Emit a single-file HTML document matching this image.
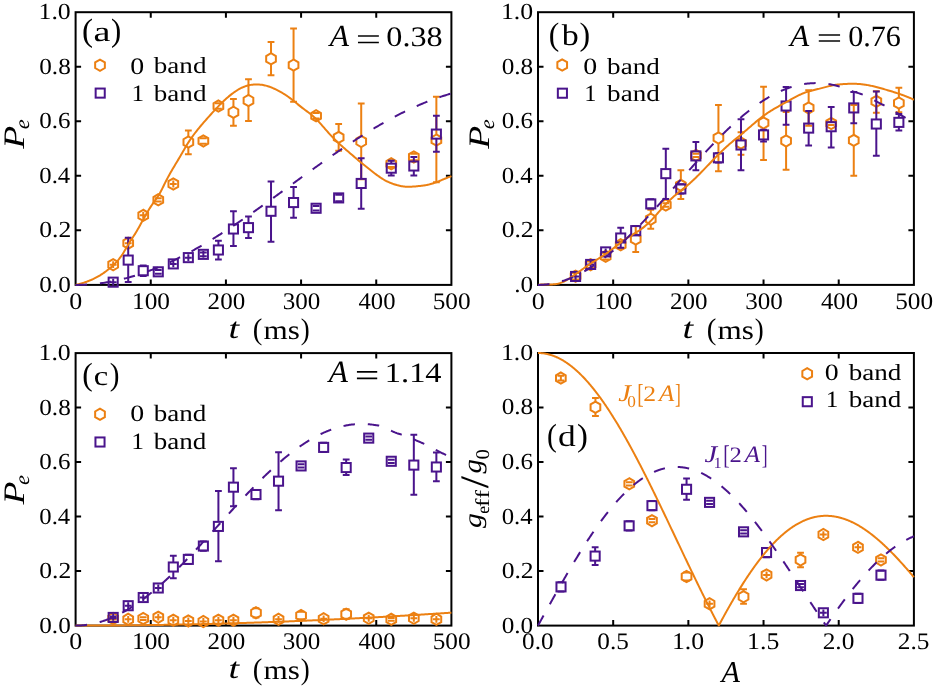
<!DOCTYPE html>
<html><head><meta charset="utf-8"><style>
html,body{margin:0;padding:0;background:#fff;}
svg{display:block;will-change:transform;}
text{font-family:"Liberation Serif",serif;font-kerning:none;text-rendering:geometricPrecision;}
</style></head><body>
<svg width="933" height="688" viewBox="0 0 933 688">
<rect width="933" height="688" fill="#fff"/>
<text transform="translate(69.36 308.57) scale(1.0878 1)" font-size="23.86" font-style="normal" fill="#000">0</text>
<text transform="translate(132.03 308.57) scale(1.0615 1)" font-size="23.86" font-style="normal" fill="#000">100</text>
<text transform="translate(207.62 308.57) scale(1.0493 1)" font-size="23.86" font-style="normal" fill="#000">200</text>
<text transform="translate(282.68 308.57) scale(1.0522 1)" font-size="23.86" font-style="normal" fill="#000">300</text>
<text transform="translate(358.56 308.57) scale(1.0316 1)" font-size="23.86" font-style="normal" fill="#000">400</text>
<text transform="translate(432.73 308.57) scale(1.0599 1)" font-size="23.86" font-style="normal" fill="#000">500</text>
<text transform="translate(39.24 291.87) scale(1.0909 1)" font-size="23.12" font-style="normal" fill="#000">0.0</text>
<text transform="translate(39.23 237.33) scale(1.1070 1)" font-size="23.12" font-style="normal" fill="#000">0.2</text>
<text transform="translate(39.26 182.79) scale(1.0704 1)" font-size="23.12" font-style="normal" fill="#000">0.4</text>
<text transform="translate(39.25 128.25) scale(1.0832 1)" font-size="23.12" font-style="normal" fill="#000">0.6</text>
<text transform="translate(39.24 73.71) scale(1.0909 1)" font-size="23.12" font-style="normal" fill="#000">0.8</text>
<text transform="translate(38.53 19.17) scale(1.1161 1)" font-size="23.12" font-style="normal" fill="#000">1.0</text>
<text transform="translate(531.76 308.57) scale(1.0878 1)" font-size="23.86" font-style="normal" fill="#000">0</text>
<text transform="translate(594.45 308.57) scale(1.0615 1)" font-size="23.86" font-style="normal" fill="#000">100</text>
<text transform="translate(670.06 308.57) scale(1.0493 1)" font-size="23.86" font-style="normal" fill="#000">200</text>
<text transform="translate(745.14 308.57) scale(1.0522 1)" font-size="23.86" font-style="normal" fill="#000">300</text>
<text transform="translate(821.04 308.57) scale(1.0316 1)" font-size="23.86" font-style="normal" fill="#000">400</text>
<text transform="translate(895.23 308.57) scale(1.0599 1)" font-size="23.86" font-style="normal" fill="#000">500</text>
<text transform="translate(501.64 291.87) scale(1.0909 1)" font-size="23.12" font-style="normal" fill="#000">0.0</text>
<text transform="translate(501.63 237.33) scale(1.1070 1)" font-size="23.12" font-style="normal" fill="#000">0.2</text>
<text transform="translate(501.66 182.79) scale(1.0704 1)" font-size="23.12" font-style="normal" fill="#000">0.4</text>
<text transform="translate(501.65 128.25) scale(1.0832 1)" font-size="23.12" font-style="normal" fill="#000">0.6</text>
<text transform="translate(501.64 73.71) scale(1.0909 1)" font-size="23.12" font-style="normal" fill="#000">0.8</text>
<text transform="translate(500.93 19.17) scale(1.1161 1)" font-size="23.12" font-style="normal" fill="#000">1.0</text>
<text transform="translate(69.36 649.27) scale(1.0878 1)" font-size="23.86" font-style="normal" fill="#000">0</text>
<text transform="translate(132.03 649.27) scale(1.0615 1)" font-size="23.86" font-style="normal" fill="#000">100</text>
<text transform="translate(207.62 649.27) scale(1.0493 1)" font-size="23.86" font-style="normal" fill="#000">200</text>
<text transform="translate(282.68 649.27) scale(1.0522 1)" font-size="23.86" font-style="normal" fill="#000">300</text>
<text transform="translate(358.56 649.27) scale(1.0316 1)" font-size="23.86" font-style="normal" fill="#000">400</text>
<text transform="translate(432.73 649.27) scale(1.0599 1)" font-size="23.86" font-style="normal" fill="#000">500</text>
<text transform="translate(39.24 632.57) scale(1.0909 1)" font-size="23.12" font-style="normal" fill="#000">0.0</text>
<text transform="translate(39.23 578.07) scale(1.1070 1)" font-size="23.12" font-style="normal" fill="#000">0.2</text>
<text transform="translate(39.26 523.57) scale(1.0704 1)" font-size="23.12" font-style="normal" fill="#000">0.4</text>
<text transform="translate(39.25 469.07) scale(1.0832 1)" font-size="23.12" font-style="normal" fill="#000">0.6</text>
<text transform="translate(39.24 414.57) scale(1.0909 1)" font-size="23.12" font-style="normal" fill="#000">0.8</text>
<text transform="translate(38.53 360.07) scale(1.1161 1)" font-size="23.12" font-style="normal" fill="#000">1.0</text>
<text transform="translate(522.09 649.16) scale(1.0638 1)" font-size="23.70" font-style="normal" fill="#000">0.0</text>
<text transform="translate(597.27 649.16) scale(1.0647 1)" font-size="23.70" font-style="normal" fill="#000">0.5</text>
<text transform="translate(671.89 649.16) scale(1.0884 1)" font-size="23.70" font-style="normal" fill="#000">1.0</text>
<text transform="translate(747.07 649.16) scale(1.0815 1)" font-size="23.88" font-style="normal" fill="#000">1.5</text>
<text transform="translate(822.66 649.16) scale(1.0691 1)" font-size="23.70" font-style="normal" fill="#000">2.0</text>
<text transform="translate(897.84 649.16) scale(1.0654 1)" font-size="23.81" font-style="normal" fill="#000">2.5</text>
<text transform="translate(501.64 632.57) scale(1.0909 1)" font-size="23.12" font-style="normal" fill="#000">0.0</text>
<text transform="translate(501.63 578.05) scale(1.1070 1)" font-size="23.12" font-style="normal" fill="#000">0.2</text>
<text transform="translate(501.66 523.53) scale(1.0704 1)" font-size="23.12" font-style="normal" fill="#000">0.4</text>
<text transform="translate(501.65 469.01) scale(1.0832 1)" font-size="23.12" font-style="normal" fill="#000">0.6</text>
<text transform="translate(501.64 414.49) scale(1.0909 1)" font-size="23.12" font-style="normal" fill="#000">0.8</text>
<text transform="translate(500.93 359.97) scale(1.1161 1)" font-size="23.12" font-style="normal" fill="#000">1.0</text>
<text transform="translate(82.05 40.82) scale(1.0242 1)" font-size="32.31" font-style="normal" fill="#000">(</text>
<text transform="translate(93.56 40.72) scale(1.3464 1)" font-size="28.39" font-style="normal" fill="#000">a</text>
<text transform="translate(111.01 40.82) scale(0.9519 1)" font-size="32.31" font-style="normal" fill="#000">)</text>
<text transform="translate(548.71 44.90) scale(0.9727 1)" font-size="32.42" font-style="normal" fill="#000">(</text>
<text transform="translate(561.70 44.51) scale(1.1388 1)" font-size="29.85" font-style="normal" fill="#000">b</text>
<text transform="translate(579.57 44.90) scale(0.9847 1)" font-size="32.42" font-style="normal" fill="#000">)</text>
<text transform="translate(82.31 385.17) scale(0.9827 1)" font-size="32.09" font-style="normal" fill="#000">(</text>
<text transform="translate(93.66 384.83) scale(1.1677 1)" font-size="27.86" font-style="normal" fill="#000">c</text>
<text transform="translate(109.66 385.17) scale(0.9099 1)" font-size="32.09" font-style="normal" fill="#000">)</text>
<text transform="translate(547.10 445.99) scale(0.9252 1)" font-size="31.98" font-style="normal" fill="#000">(</text>
<text transform="translate(557.92 445.71) scale(1.1813 1)" font-size="29.99" font-style="normal" fill="#000">d</text>
<text transform="translate(577.05 445.99) scale(1.0226 1)" font-size="31.98" font-style="normal" fill="#000">)</text>
<text transform="translate(329.72 46.20) scale(1.0258 1)" font-size="30.75" font-style="italic" fill="#000">A</text>
<text transform="translate(355.86 49.71) scale(1.3862 1)" font-size="32.40" font-style="normal" fill="#000">=</text>
<text transform="translate(386.37 46.30) scale(1.1391 1)" font-size="28.27" font-style="normal" fill="#000">0.38</text>
<text transform="translate(790.02 45.50) scale(1.0259 1)" font-size="30.60" font-style="italic" fill="#000">A</text>
<text transform="translate(816.42 48.01) scale(1.5258 1)" font-size="30.00" font-style="normal" fill="#000">=</text>
<text transform="translate(848.15 45.88) scale(1.0236 1)" font-size="29.45" font-style="normal" fill="#000">0.76</text>
<text transform="translate(328.72 382.30) scale(1.0109 1)" font-size="31.05" font-style="italic" fill="#000">A</text>
<text transform="translate(354.83 385.79) scale(1.3300 1)" font-size="32.80" font-style="normal" fill="#000">=</text>
<text transform="translate(384.85 381.80) scale(1.1571 1)" font-size="28.03" font-style="normal" fill="#000">1.14</text>
<text transform="translate(130.34 73.67) scale(1.1742 1)" font-size="23.71" font-style="normal" fill="#000">0</text>
<text transform="translate(153.80 73.48) scale(1.1760 1)" font-size="23.02" font-style="normal" fill="#000">band</text>
<text transform="translate(131.38 101.40) scale(1.0698 1)" font-size="23.63" font-style="normal" fill="#000">1</text>
<text transform="translate(153.80 100.98) scale(1.1760 1)" font-size="23.02" font-style="normal" fill="#000">band</text>
<text transform="translate(583.14 73.67) scale(1.1891 1)" font-size="23.41" font-style="normal" fill="#000">0</text>
<text transform="translate(607.10 73.67) scale(1.1688 1)" font-size="23.17" font-style="normal" fill="#000">band</text>
<text transform="translate(584.25 101.30) scale(1.0472 1)" font-size="23.33" font-style="normal" fill="#000">1</text>
<text transform="translate(607.10 101.07) scale(1.1688 1)" font-size="23.17" font-style="normal" fill="#000">band</text>
<text transform="translate(130.14 421.47) scale(1.1891 1)" font-size="23.41" font-style="normal" fill="#000">0</text>
<text transform="translate(153.80 421.37) scale(1.1546 1)" font-size="23.45" font-style="normal" fill="#000">band</text>
<text transform="translate(131.15 449.00) scale(1.0959 1)" font-size="23.33" font-style="normal" fill="#000">1</text>
<text transform="translate(153.80 448.67) scale(1.1546 1)" font-size="23.45" font-style="normal" fill="#000">band</text>
<text transform="translate(824.64 379.67) scale(1.1891 1)" font-size="23.41" font-style="normal" fill="#000">0</text>
<text transform="translate(848.70 379.67) scale(1.1688 1)" font-size="23.17" font-style="normal" fill="#000">band</text>
<text transform="translate(825.68 407.10) scale(1.0837 1)" font-size="23.33" font-style="normal" fill="#000">1</text>
<text transform="translate(848.70 406.87) scale(1.1688 1)" font-size="23.17" font-style="normal" fill="#000">band</text>
<text transform="translate(618.17 401.37) scale(1.1884 1)" font-size="23.93" font-style="italic" fill="#ec8012">J</text>
<text transform="translate(627.34 407.44) scale(1.0378 1)" font-size="16.60" font-style="normal" fill="#ec8012">0</text>
<text transform="translate(637.27 403.03) scale(0.7041 1)" font-size="27.43" font-style="normal" fill="#ec8012">[</text>
<text transform="translate(643.17 400.70) scale(1.1652 1)" font-size="22.05" font-style="normal" fill="#ec8012">2</text>
<text transform="translate(658.97 400.70) scale(1.0702 1)" font-size="23.33" font-style="italic" fill="#ec8012">A</text>
<text transform="translate(674.97 403.03) scale(0.6386 1)" font-size="27.43" font-style="normal" fill="#ec8012">]</text>
<text transform="translate(704.47 462.37) scale(1.1884 1)" font-size="23.93" font-style="italic" fill="#4a148c">J</text>
<text transform="translate(713.83 467.70) scale(1.0013 1)" font-size="15.60" font-style="normal" fill="#4a148c">1</text>
<text transform="translate(723.17 464.10) scale(0.7168 1)" font-size="26.94" font-style="normal" fill="#4a148c">[</text>
<text transform="translate(729.51 462.20) scale(1.1200 1)" font-size="22.05" font-style="normal" fill="#4a148c">2</text>
<text transform="translate(744.87 462.20) scale(1.0633 1)" font-size="23.48" font-style="italic" fill="#4a148c">A</text>
<text transform="translate(761.67 464.10) scale(0.6501 1)" font-size="26.94" font-style="normal" fill="#4a148c">]</text>
<text transform="translate(228.42 338.41) scale(1.2947 1)" font-size="29.51" font-style="italic" fill="#000">t</text>
<text transform="translate(252.83 338.91) scale(0.9605 1)" font-size="30.00" font-style="normal" fill="#000">(</text>
<text transform="translate(263.55 338.64) scale(1.1623 1)" font-size="26.82" font-style="normal" fill="#000">ms</text>
<text transform="translate(300.73 338.91) scale(0.8956 1)" font-size="30.00" font-style="normal" fill="#000">)</text>
<text transform="translate(682.42 338.41) scale(1.2947 1)" font-size="29.51" font-style="italic" fill="#000">t</text>
<text transform="translate(706.83 338.91) scale(0.9605 1)" font-size="30.00" font-style="normal" fill="#000">(</text>
<text transform="translate(717.55 338.64) scale(1.1623 1)" font-size="26.82" font-style="normal" fill="#000">ms</text>
<text transform="translate(754.73 338.91) scale(0.8956 1)" font-size="30.00" font-style="normal" fill="#000">)</text>
<text transform="translate(228.42 678.41) scale(1.2947 1)" font-size="29.51" font-style="italic" fill="#000">t</text>
<text transform="translate(252.83 678.91) scale(0.9605 1)" font-size="30.00" font-style="normal" fill="#000">(</text>
<text transform="translate(263.55 678.64) scale(1.1623 1)" font-size="26.82" font-style="normal" fill="#000">ms</text>
<text transform="translate(300.73 678.91) scale(0.8956 1)" font-size="30.00" font-style="normal" fill="#000">)</text>
<text transform="translate(721.55 682.20) scale(1.0017 1)" font-size="30.14" font-style="italic" fill="#000">A</text>
<text transform="translate(24.10 148.70) rotate(-90) scale(1.2674 1)" font-size="29.78" font-style="italic" fill="#000">P</text>
<text transform="translate(28.80 129.29) rotate(-90) scale(1.0820 1)" font-size="20.58" font-style="italic" fill="#000">e</text>
<text transform="translate(489.00 148.70) rotate(-90) scale(1.2674 1)" font-size="29.78" font-style="italic" fill="#000">P</text>
<text transform="translate(493.70 129.29) rotate(-90) scale(1.0820 1)" font-size="20.58" font-style="italic" fill="#000">e</text>
<text transform="translate(24.10 504.50) rotate(-90) scale(1.2674 1)" font-size="29.78" font-style="italic" fill="#000">P</text>
<text transform="translate(28.80 485.09) rotate(-90) scale(1.0820 1)" font-size="20.58" font-style="italic" fill="#000">e</text>
<text transform="translate(481.31 528.01) rotate(-90) scale(1.1972 1)" font-size="24.87" font-style="italic" fill="#000">g</text>
<text transform="translate(489.03 513.79) rotate(-90) scale(0.9822 1)" font-size="17.88" font-style="normal" fill="#000">e</text>
<text transform="translate(489.20 506.98) rotate(-90) scale(1.2918 1)" font-size="19.74" font-style="normal" fill="#000">ff</text>
<text transform="translate(487.51 488.30) rotate(-90) scale(1.0879 1)" font-size="40.36" font-style="normal" fill="#000">/</text>
<text transform="translate(481.03 473.41) rotate(-90) scale(1.0964 1)" font-size="26.19" font-style="italic" fill="#000">g</text>
<text transform="translate(489.01 459.39) rotate(-90) scale(1.0695 1)" font-size="19.41" font-style="normal" fill="#000">0</text>
<rect x="500" y="275" width="15.6" height="20" fill="#fff"/>
<path d="M150.76 284.90V279.40M150.76 12.20V17.70M225.92 284.90V279.40M225.92 12.20V17.70M301.08 284.90V279.40M301.08 12.20V17.70M376.24 284.90V279.40M376.24 12.20V17.70M75.60 230.36H81.10M451.40 230.36H445.90M75.60 175.82H81.10M451.40 175.82H445.90M75.60 121.28H81.10M451.40 121.28H445.90M75.60 66.74H81.10M451.40 66.74H445.90" stroke="#000" stroke-width="2.00" fill="none"/>
<rect x="75.60" y="12.20" width="375.80" height="272.70" fill="none" stroke="#000" stroke-width="2.00"/>
<path d="M613.18 284.90V279.40M613.18 12.20V17.70M688.36 284.90V279.40M688.36 12.20V17.70M763.54 284.90V279.40M763.54 12.20V17.70M838.72 284.90V279.40M838.72 12.20V17.70M538.00 230.36H543.50M913.90 230.36H908.40M538.00 175.82H543.50M913.90 175.82H908.40M538.00 121.28H543.50M913.90 121.28H908.40M538.00 66.74H543.50M913.90 66.74H908.40" stroke="#000" stroke-width="2.00" fill="none"/>
<rect x="538.00" y="12.20" width="375.90" height="272.70" fill="none" stroke="#000" stroke-width="2.00"/>
<path d="M150.76 625.60V620.10M150.76 353.10V358.60M225.92 625.60V620.10M225.92 353.10V358.60M301.08 625.60V620.10M301.08 353.10V358.60M376.24 625.60V620.10M376.24 353.10V358.60M75.60 571.10H81.10M451.40 571.10H445.90M75.60 516.60H81.10M451.40 516.60H445.90M75.60 462.10H81.10M451.40 462.10H445.90M75.60 407.60H81.10M451.40 407.60H445.90" stroke="#000" stroke-width="2.00" fill="none"/>
<rect x="75.60" y="353.10" width="375.80" height="272.50" fill="none" stroke="#000" stroke-width="2.00"/>
<path d="M613.18 625.60V620.10M613.18 353.00V358.50M688.36 625.60V620.10M688.36 353.00V358.50M763.54 625.60V620.10M763.54 353.00V358.50M838.72 625.60V620.10M838.72 353.00V358.50M538.00 571.08H543.50M913.90 571.08H908.40M538.00 516.56H543.50M913.90 516.56H908.40M538.00 462.04H543.50M913.90 462.04H908.40M538.00 407.52H543.50M913.90 407.52H908.40" stroke="#000" stroke-width="2.00" fill="none"/>
<rect x="538.00" y="353.00" width="375.90" height="272.60" fill="none" stroke="#000" stroke-width="2.00"/>
<path d="M109.78 264.72H116.58M109.78 264.72H116.58M113.18 261.32V268.12M124.81 243.18H131.61M124.81 243.18H131.61M128.21 239.78V246.58M139.84 215.36H146.64M139.84 215.36H146.64M143.24 211.96V218.76M154.88 201.45H161.68M154.88 198.18H161.68M169.91 184.00H176.71M169.91 184.00H176.71M173.31 180.60V187.40M188.34 154.28V147.41M188.34 130.55V136.61M184.94 154.28H191.74M184.94 130.55H191.74M199.97 143.64H206.77M199.97 138.19H206.77M215.00 108.74H221.80M215.00 103.28H221.80M233.44 125.64V117.68M233.44 98.92V106.88M230.04 125.64H236.84M230.04 98.92H236.84M248.47 121.01V105.95M248.47 79.28V95.15M245.07 121.01H251.87M245.07 79.28H251.87M271.02 75.19V64.23M271.02 41.92V53.43M267.62 75.19H274.42M267.62 41.92H274.42M293.56 101.65V70.50M293.56 28.56V59.70M290.16 101.65H296.96M290.16 28.56H296.96M312.71 118.55H319.51M312.71 113.10H319.51M338.66 150.73V142.77M338.66 124.01V131.97M335.26 150.73H342.06M335.26 124.01H342.06M361.21 179.37V146.86M361.21 103.55V136.06M357.81 179.37H364.61M357.81 103.55H364.61M387.87 167.09H394.67M387.87 160.55H394.67M410.42 160.28H417.22M410.42 153.73H417.22M436.37 182.36V145.50M436.37 96.74V134.70M432.97 182.36H439.77M432.97 96.74H439.77" stroke="#ec8012" stroke-width="2.00" fill="none"/>
<polygon points="113.18,259.12 108.33,261.92 108.33,267.52 113.18,270.32 118.03,267.52 118.03,261.92" fill="none" stroke="#ec8012" stroke-width="2.00"/>
<polygon points="128.21,237.58 123.36,240.38 123.36,245.98 128.21,248.78 133.06,245.98 133.06,240.38" fill="none" stroke="#ec8012" stroke-width="2.00"/>
<polygon points="143.24,209.76 138.39,212.56 138.39,218.16 143.24,220.96 148.09,218.16 148.09,212.56" fill="none" stroke="#ec8012" stroke-width="2.00"/>
<polygon points="158.28,194.22 153.43,197.02 153.43,202.62 158.28,205.42 163.13,202.62 163.13,197.02" fill="none" stroke="#ec8012" stroke-width="2.00"/>
<polygon points="173.31,178.40 168.46,181.20 168.46,186.80 173.31,189.60 178.16,186.80 178.16,181.20" fill="none" stroke="#ec8012" stroke-width="2.00"/>
<polygon points="188.34,136.41 183.49,139.21 183.49,144.81 188.34,147.61 193.19,144.81 193.19,139.21" fill="none" stroke="#ec8012" stroke-width="2.00"/>
<polygon points="203.37,135.31 198.52,138.11 198.52,143.71 203.37,146.51 208.22,143.71 208.22,138.11" fill="none" stroke="#ec8012" stroke-width="2.00"/>
<polygon points="218.40,100.41 213.55,103.21 213.55,108.81 218.40,111.61 223.25,108.81 223.25,103.21" fill="none" stroke="#ec8012" stroke-width="2.00"/>
<polygon points="233.44,106.68 228.59,109.48 228.59,115.08 233.44,117.88 238.29,115.08 238.29,109.48" fill="none" stroke="#ec8012" stroke-width="2.00"/>
<polygon points="248.47,94.95 243.62,97.75 243.62,103.35 248.47,106.15 253.32,103.35 253.32,97.75" fill="none" stroke="#ec8012" stroke-width="2.00"/>
<polygon points="271.02,53.23 266.17,56.03 266.17,61.63 271.02,64.43 275.87,61.63 275.87,56.03" fill="none" stroke="#ec8012" stroke-width="2.00"/>
<polygon points="293.56,59.50 288.71,62.30 288.71,67.90 293.56,70.70 298.41,67.90 298.41,62.30" fill="none" stroke="#ec8012" stroke-width="2.00"/>
<polygon points="316.11,110.23 311.26,113.03 311.26,118.63 316.11,121.43 320.96,118.63 320.96,113.03" fill="none" stroke="#ec8012" stroke-width="2.00"/>
<polygon points="338.66,131.77 333.81,134.57 333.81,140.17 338.66,142.97 343.51,140.17 343.51,134.57" fill="none" stroke="#ec8012" stroke-width="2.00"/>
<polygon points="361.21,135.86 356.36,138.66 356.36,144.26 361.21,147.06 366.06,144.26 366.06,138.66" fill="none" stroke="#ec8012" stroke-width="2.00"/>
<polygon points="391.27,158.22 386.42,161.02 386.42,166.62 391.27,169.42 396.12,166.62 396.12,161.02" fill="none" stroke="#ec8012" stroke-width="2.00"/>
<polygon points="413.82,151.40 408.97,154.20 408.97,159.80 413.82,162.60 418.67,159.80 418.67,154.20" fill="none" stroke="#ec8012" stroke-width="2.00"/>
<polygon points="436.37,134.50 431.52,137.30 431.52,142.90 436.37,145.70 441.22,142.90 441.22,137.30" fill="none" stroke="#ec8012" stroke-width="2.00"/>
<path d="M109.78 282.17H116.58M109.78 282.17H116.58M113.18 278.77V285.57M128.21 281.90V264.58M128.21 237.72V255.58M124.81 281.90H131.61M124.81 237.72H131.61M143.24 275.90V275.22M143.24 265.54V266.22M139.84 275.90H146.64M139.84 265.54H146.64M154.88 273.72H161.68M154.88 269.90H161.68M169.91 263.90H176.71M169.91 263.90H176.71M173.31 260.50V267.30M184.94 257.63H191.74M184.94 257.63H191.74M188.34 254.23V261.03M199.97 256.27H206.77M199.97 252.45H206.77M203.37 250.96V257.76M218.40 259.54V254.49M218.40 240.72V245.49M215.00 259.54H221.80M215.00 240.72H221.80M233.44 245.90V233.50M233.44 211.27V224.50M230.04 245.90H236.84M230.04 211.27H236.84M248.47 238.00V232.13M248.47 216.45V223.13M245.07 238.00H251.87M245.07 216.45H251.87M271.02 241.81V215.77M271.02 181.55V206.77M267.62 241.81H274.42M267.62 181.55H274.42M293.56 217.82V207.04M293.56 187.00V198.04M290.16 217.82H296.96M290.16 187.00H296.96M312.71 210.45H319.51M312.71 206.09H319.51M335.26 201.18H342.06M335.26 194.64H342.06M361.21 208.82V187.96M361.21 158.37V178.96M357.81 208.82H364.61M357.81 158.37H364.61M391.27 175.55V172.68M391.27 160.82V163.68M387.87 175.55H394.67M387.87 160.82H394.67M413.82 175.55V170.50M413.82 157.00V161.50M410.42 175.55H417.22M410.42 157.00H417.22M436.37 151.82V138.60M436.37 115.83V129.60M432.97 151.82H439.77M432.97 115.83H439.77" stroke="#4a148c" stroke-width="2.00" fill="none"/>
<rect x="108.63" y="277.62" width="9.10" height="9.10" fill="none" stroke="#4a148c" stroke-width="2.00"/>
<rect x="123.66" y="255.53" width="9.10" height="9.10" fill="none" stroke="#4a148c" stroke-width="2.00"/>
<rect x="138.69" y="266.17" width="9.10" height="9.10" fill="none" stroke="#4a148c" stroke-width="2.00"/>
<rect x="153.73" y="267.26" width="9.10" height="9.10" fill="none" stroke="#4a148c" stroke-width="2.00"/>
<rect x="168.76" y="259.35" width="9.10" height="9.10" fill="none" stroke="#4a148c" stroke-width="2.00"/>
<rect x="183.79" y="253.08" width="9.10" height="9.10" fill="none" stroke="#4a148c" stroke-width="2.00"/>
<rect x="198.82" y="249.81" width="9.10" height="9.10" fill="none" stroke="#4a148c" stroke-width="2.00"/>
<rect x="213.85" y="245.44" width="9.10" height="9.10" fill="none" stroke="#4a148c" stroke-width="2.00"/>
<rect x="228.89" y="224.45" width="9.10" height="9.10" fill="none" stroke="#4a148c" stroke-width="2.00"/>
<rect x="243.92" y="223.08" width="9.10" height="9.10" fill="none" stroke="#4a148c" stroke-width="2.00"/>
<rect x="266.47" y="206.72" width="9.10" height="9.10" fill="none" stroke="#4a148c" stroke-width="2.00"/>
<rect x="289.01" y="197.99" width="9.10" height="9.10" fill="none" stroke="#4a148c" stroke-width="2.00"/>
<rect x="311.56" y="203.72" width="9.10" height="9.10" fill="none" stroke="#4a148c" stroke-width="2.00"/>
<rect x="334.11" y="193.36" width="9.10" height="9.10" fill="none" stroke="#4a148c" stroke-width="2.00"/>
<rect x="356.66" y="178.91" width="9.10" height="9.10" fill="none" stroke="#4a148c" stroke-width="2.00"/>
<rect x="386.72" y="163.63" width="9.10" height="9.10" fill="none" stroke="#4a148c" stroke-width="2.00"/>
<rect x="409.27" y="161.45" width="9.10" height="9.10" fill="none" stroke="#4a148c" stroke-width="2.00"/>
<rect x="431.82" y="129.55" width="9.10" height="9.10" fill="none" stroke="#4a148c" stroke-width="2.00"/>
<path d="M75.60 284.90 L76.54 284.68 L77.48 284.45 L78.43 284.22 L79.37 283.97 L80.31 283.72 L81.25 283.45 L82.19 283.18 L83.13 282.89 L84.08 282.59 L85.02 282.28 L85.96 281.95 L86.90 281.62 L87.84 281.27 L88.79 280.91 L89.73 280.53 L90.67 280.14 L91.61 279.73 L92.55 279.31 L93.50 278.87 L94.44 278.41 L95.38 277.94 L96.32 277.45 L97.26 276.94 L98.20 276.42 L99.15 275.87 L100.09 275.31 L101.03 274.72 L101.97 274.12 L102.91 273.50 L103.86 272.85 L104.80 272.19 L105.74 271.50 L106.68 270.79 L107.62 270.06 L108.56 269.30 L109.51 268.52 L110.45 267.72 L111.39 266.90 L112.33 266.05 L113.27 265.18 L114.22 264.28 L115.16 263.35 L116.10 262.38 L117.04 261.36 L117.98 260.30 L118.93 259.17 L119.87 257.98 L120.81 256.72 L121.75 255.37 L122.69 253.95 L123.63 252.43 L124.58 250.84 L125.52 249.20 L126.46 247.55 L127.40 245.91 L128.34 244.32 L129.29 242.79 L130.23 241.31 L131.17 239.86 L132.11 238.43 L133.05 237.00 L133.99 235.56 L134.94 234.09 L135.88 232.57 L136.82 230.99 L137.76 229.37 L138.70 227.71 L139.65 226.02 L140.59 224.31 L141.53 222.59 L142.47 220.86 L143.41 219.14 L144.36 217.44 L145.30 215.76 L146.24 214.10 L147.18 212.48 L148.12 210.89 L149.06 209.34 L150.01 207.84 L150.95 206.39 L151.89 204.99 L152.83 203.64 L153.77 202.32 L154.72 201.02 L155.66 199.70 L156.60 198.35 L157.54 196.94 L158.48 195.47 L159.43 193.90 L160.37 192.22 L161.31 190.45 L162.25 188.60 L163.19 186.70 L164.13 184.79 L165.08 182.88 L166.02 181.00 L166.96 179.17 L167.90 177.40 L168.84 175.66 L169.79 173.97 L170.73 172.31 L171.67 170.68 L172.61 169.08 L173.55 167.49 L174.49 165.92 L175.44 164.35 L176.38 162.78 L177.32 161.21 L178.26 159.63 L179.20 158.04 L180.15 156.42 L181.09 154.80 L182.03 153.16 L182.97 151.53 L183.91 149.91 L184.86 148.29 L185.80 146.70 L186.74 145.13 L187.68 143.60 L188.62 142.11 L189.56 140.66 L190.51 139.25 L191.45 137.88 L192.39 136.55 L193.33 135.25 L194.27 133.98 L195.22 132.74 L196.16 131.52 L197.10 130.33 L198.04 129.16 L198.98 128.01 L199.92 126.87 L200.87 125.75 L201.81 124.64 L202.75 123.55 L203.69 122.46 L204.63 121.38 L205.58 120.31 L206.52 119.24 L207.46 118.18 L208.40 117.12 L209.34 116.06 L210.29 115.01 L211.23 113.96 L212.17 112.92 L213.11 111.89 L214.05 110.86 L214.99 109.84 L215.94 108.83 L216.88 107.83 L217.82 106.84 L218.76 105.86 L219.70 104.90 L220.65 103.95 L221.59 103.01 L222.53 102.09 L223.47 101.19 L224.41 100.30 L225.35 99.43 L226.30 98.57 L227.24 97.74 L228.18 96.93 L229.12 96.13 L230.06 95.36 L231.01 94.61 L231.95 93.89 L232.89 93.18 L233.83 92.50 L234.77 91.84 L235.72 91.21 L236.66 90.60 L237.60 90.02 L238.54 89.46 L239.48 88.93 L240.42 88.43 L241.37 87.96 L242.31 87.51 L243.25 87.10 L244.19 86.71 L245.13 86.35 L246.08 86.02 L247.02 85.73 L247.96 85.47 L248.90 85.23 L249.84 85.04 L250.78 84.87 L251.73 84.74 L252.67 84.63 L253.61 84.55 L254.55 84.50 L255.49 84.47 L256.44 84.47 L257.38 84.48 L258.32 84.51 L259.26 84.56 L260.20 84.63 L261.15 84.73 L262.09 84.86 L263.03 85.01 L263.97 85.19 L264.91 85.40 L265.85 85.63 L266.80 85.89 L267.74 86.17 L268.68 86.48 L269.62 86.81 L270.56 87.16 L271.51 87.53 L272.45 87.92 L273.39 88.33 L274.33 88.76 L275.27 89.20 L276.22 89.65 L277.16 90.12 L278.10 90.61 L279.04 91.10 L279.98 91.62 L280.92 92.14 L281.87 92.69 L282.81 93.25 L283.75 93.82 L284.69 94.41 L285.63 95.02 L286.58 95.65 L287.52 96.30 L288.46 96.96 L289.40 97.64 L290.34 98.35 L291.28 99.06 L292.23 99.80 L293.17 100.54 L294.11 101.29 L295.05 102.05 L295.99 102.82 L296.94 103.59 L297.88 104.35 L298.82 105.12 L299.76 105.87 L300.70 106.62 L301.65 107.37 L302.59 108.09 L303.53 108.81 L304.47 109.52 L305.41 110.22 L306.35 110.92 L307.30 111.62 L308.24 112.32 L309.18 113.04 L310.12 113.77 L311.06 114.52 L312.01 115.29 L312.95 116.09 L313.89 116.92 L314.83 117.78 L315.77 118.68 L316.71 119.61 L317.66 120.58 L318.60 121.58 L319.54 122.61 L320.48 123.65 L321.42 124.71 L322.37 125.79 L323.31 126.87 L324.25 127.96 L325.19 129.05 L326.13 130.13 L327.08 131.20 L328.02 132.26 L328.96 133.31 L329.90 134.34 L330.84 135.34 L331.78 136.34 L332.73 137.31 L333.67 138.27 L334.61 139.22 L335.55 140.15 L336.49 141.06 L337.44 141.97 L338.38 142.86 L339.32 143.74 L340.26 144.61 L341.20 145.47 L342.14 146.32 L343.09 147.16 L344.03 148.00 L344.97 148.83 L345.91 149.65 L346.85 150.47 L347.80 151.28 L348.74 152.09 L349.68 152.90 L350.62 153.71 L351.56 154.52 L352.51 155.33 L353.45 156.13 L354.39 156.94 L355.33 157.74 L356.27 158.54 L357.21 159.33 L358.16 160.12 L359.10 160.91 L360.04 161.70 L360.98 162.48 L361.92 163.26 L362.87 164.03 L363.81 164.80 L364.75 165.56 L365.69 166.32 L366.63 167.08 L367.57 167.83 L368.52 168.57 L369.46 169.31 L370.40 170.05 L371.34 170.79 L372.28 171.52 L373.23 172.25 L374.17 172.97 L375.11 173.68 L376.05 174.39 L376.99 175.08 L377.94 175.77 L378.88 176.43 L379.82 177.09 L380.76 177.72 L381.70 178.33 L382.64 178.93 L383.59 179.49 L384.53 180.04 L385.47 180.55 L386.41 181.05 L387.35 181.51 L388.30 181.96 L389.24 182.38 L390.18 182.79 L391.12 183.17 L392.06 183.53 L393.01 183.87 L393.95 184.19 L394.89 184.50 L395.83 184.79 L396.77 185.07 L397.71 185.32 L398.66 185.56 L399.60 185.78 L400.54 185.98 L401.48 186.16 L402.42 186.31 L403.37 186.45 L404.31 186.56 L405.25 186.65 L406.19 186.72 L407.13 186.76 L408.07 186.78 L409.02 186.78 L409.96 186.76 L410.90 186.73 L411.84 186.68 L412.78 186.62 L413.73 186.54 L414.67 186.46 L415.61 186.38 L416.55 186.28 L417.49 186.19 L418.44 186.10 L419.38 186.00 L420.32 185.90 L421.26 185.80 L422.20 185.69 L423.14 185.57 L424.09 185.44 L425.03 185.29 L425.97 185.14 L426.91 184.96 L427.85 184.77 L428.80 184.56 L429.74 184.33 L430.68 184.07 L431.62 183.80 L432.56 183.51 L433.50 183.20 L434.45 182.88 L435.39 182.54 L436.33 182.20 L437.27 181.84 L438.21 181.47 L439.16 181.09 L440.10 180.71 L441.04 180.32 L441.98 179.93 L442.92 179.53 L443.87 179.14 L444.81 178.74 L445.75 178.35 L446.69 177.96 L447.63 177.57 L448.57 177.19 L449.52 176.81 L450.46 176.45 L451.40 176.09" fill="none" stroke="#ec8012" stroke-width="2.00" stroke-linejoin="round"/>
<path d="M75.60 284.90 L76.54 284.90 L77.48 284.89 L78.43 284.88 L79.37 284.86 L80.31 284.84 L81.25 284.82 L82.19 284.78 L83.13 284.75 L84.08 284.71 L85.02 284.66 L85.96 284.61 L86.90 284.56 L87.84 284.50 L88.79 284.44 L89.73 284.37 L90.67 284.30 L91.61 284.22 L92.55 284.14 L93.50 284.05 L94.44 283.96 L95.38 283.86 L96.32 283.76 L97.26 283.66 L98.20 283.55 L99.15 283.43 L100.09 283.31 L101.03 283.19 L101.97 283.06 L102.91 282.92 L103.86 282.79 L104.80 282.64 L105.74 282.50 L106.68 282.34 L107.62 282.19 L108.56 282.03 L109.51 281.86 L110.45 281.69 L111.39 281.52 L112.33 281.34 L113.27 281.15 L114.22 280.96 L115.16 280.77 L116.10 280.57 L117.04 280.37 L117.98 280.16 L118.93 279.95 L119.87 279.74 L120.81 279.52 L121.75 279.29 L122.69 279.06 L123.63 278.83 L124.58 278.59 L125.52 278.35 L126.46 278.10 L127.40 277.85 L128.34 277.60 L129.29 277.34 L130.23 277.07 L131.17 276.81 L132.11 276.53 L133.05 276.26 L133.99 275.97 L134.94 275.69 L135.88 275.40 L136.82 275.10 L137.76 274.81 L138.70 274.50 L139.65 274.20 L140.59 273.89 L141.53 273.57 L142.47 273.25 L143.41 272.93 L144.36 272.60 L145.30 272.27 L146.24 271.93 L147.18 271.59 L148.12 271.25 L149.06 270.90 L150.01 270.55 L150.95 270.19 L151.89 269.83 L152.83 269.46 L153.77 269.10 L154.72 268.72 L155.66 268.35 L156.60 267.97 L157.54 267.58 L158.48 267.19 L159.43 266.80 L160.37 266.41 L161.31 266.01 L162.25 265.60 L163.19 265.20 L164.13 264.79 L165.08 264.37 L166.02 263.95 L166.96 263.53 L167.90 263.10 L168.84 262.67 L169.79 262.24 L170.73 261.80 L171.67 261.36 L172.61 260.92 L173.55 260.47 L174.49 260.02 L175.44 259.57 L176.38 259.11 L177.32 258.65 L178.26 258.18 L179.20 257.71 L180.15 257.24 L181.09 256.76 L182.03 256.28 L182.97 255.80 L183.91 255.32 L184.86 254.83 L185.80 254.33 L186.74 253.84 L187.68 253.34 L188.62 252.84 L189.56 252.33 L190.51 251.82 L191.45 251.31 L192.39 250.80 L193.33 250.28 L194.27 249.76 L195.22 249.24 L196.16 248.71 L197.10 248.18 L198.04 247.65 L198.98 247.11 L199.92 246.57 L200.87 246.03 L201.81 245.49 L202.75 244.94 L203.69 244.39 L204.63 243.83 L205.58 243.28 L206.52 242.72 L207.46 242.16 L208.40 241.60 L209.34 241.03 L210.29 240.46 L211.23 239.89 L212.17 239.31 L213.11 238.74 L214.05 238.16 L214.99 237.57 L215.94 236.99 L216.88 236.40 L217.82 235.81 L218.76 235.22 L219.70 234.63 L220.65 234.03 L221.59 233.43 L222.53 232.83 L223.47 232.23 L224.41 231.62 L225.35 231.02 L226.30 230.41 L227.24 229.79 L228.18 229.18 L229.12 228.56 L230.06 227.95 L231.01 227.33 L231.95 226.70 L232.89 226.08 L233.83 225.45 L234.77 224.82 L235.72 224.19 L236.66 223.56 L237.60 222.93 L238.54 222.29 L239.48 221.66 L240.42 221.02 L241.37 220.38 L242.31 219.74 L243.25 219.09 L244.19 218.45 L245.13 217.80 L246.08 217.15 L247.02 216.50 L247.96 215.85 L248.90 215.20 L249.84 214.54 L250.78 213.89 L251.73 213.23 L252.67 212.57 L253.61 211.91 L254.55 211.25 L255.49 210.59 L256.44 209.93 L257.38 209.26 L258.32 208.60 L259.26 207.93 L260.20 207.26 L261.15 206.59 L262.09 205.92 L263.03 205.25 L263.97 204.58 L264.91 203.91 L265.85 203.23 L266.80 202.56 L267.74 201.89 L268.68 201.21 L269.62 200.53 L270.56 199.86 L271.51 199.18 L272.45 198.50 L273.39 197.82 L274.33 197.14 L275.27 196.46 L276.22 195.78 L277.16 195.10 L278.10 194.41 L279.04 193.73 L279.98 193.05 L280.92 192.37 L281.87 191.68 L282.81 191.00 L283.75 190.31 L284.69 189.63 L285.63 188.95 L286.58 188.26 L287.52 187.58 L288.46 186.89 L289.40 186.21 L290.34 185.52 L291.28 184.84 L292.23 184.15 L293.17 183.47 L294.11 182.78 L295.05 182.10 L295.99 181.41 L296.94 180.73 L297.88 180.04 L298.82 179.36 L299.76 178.68 L300.70 177.99 L301.65 177.31 L302.59 176.63 L303.53 175.94 L304.47 175.26 L305.41 174.58 L306.35 173.90 L307.30 173.22 L308.24 172.54 L309.18 171.86 L310.12 171.18 L311.06 170.51 L312.01 169.83 L312.95 169.15 L313.89 168.48 L314.83 167.80 L315.77 167.13 L316.71 166.45 L317.66 165.78 L318.60 165.11 L319.54 164.44 L320.48 163.77 L321.42 163.10 L322.37 162.44 L323.31 161.77 L324.25 161.11 L325.19 160.44 L326.13 159.78 L327.08 159.12 L328.02 158.46 L328.96 157.80 L329.90 157.14 L330.84 156.48 L331.78 155.83 L332.73 155.18 L333.67 154.52 L334.61 153.87 L335.55 153.22 L336.49 152.58 L337.44 151.93 L338.38 151.29 L339.32 150.64 L340.26 150.00 L341.20 149.36 L342.14 148.72 L343.09 148.09 L344.03 147.45 L344.97 146.82 L345.91 146.19 L346.85 145.56 L347.80 144.94 L348.74 144.31 L349.68 143.69 L350.62 143.07 L351.56 142.45 L352.51 141.83 L353.45 141.21 L354.39 140.60 L355.33 139.99 L356.27 139.38 L357.21 138.78 L358.16 138.17 L359.10 137.57 L360.04 136.97 L360.98 136.37 L361.92 135.78 L362.87 135.18 L363.81 134.59 L364.75 134.01 L365.69 133.42 L366.63 132.84 L367.57 132.26 L368.52 131.68 L369.46 131.10 L370.40 130.53 L371.34 129.96 L372.28 129.39 L373.23 128.83 L374.17 128.26 L375.11 127.70 L376.05 127.15 L376.99 126.59 L377.94 126.04 L378.88 125.49 L379.82 124.95 L380.76 124.40 L381.70 123.86 L382.64 123.33 L383.59 122.79 L384.53 122.26 L385.47 121.73 L386.41 121.21 L387.35 120.69 L388.30 120.17 L389.24 119.65 L390.18 119.14 L391.12 118.63 L392.06 118.12 L393.01 117.62 L393.95 117.12 L394.89 116.62 L395.83 116.13 L396.77 115.64 L397.71 115.15 L398.66 114.66 L399.60 114.18 L400.54 113.71 L401.48 113.23 L402.42 112.76 L403.37 112.30 L404.31 111.83 L405.25 111.37 L406.19 110.92 L407.13 110.46 L408.07 110.01 L409.02 109.57 L409.96 109.13 L410.90 108.69 L411.84 108.25 L412.78 107.82 L413.73 107.39 L414.67 106.97 L415.61 106.55 L416.55 106.13 L417.49 105.72 L418.44 105.31 L419.38 104.91 L420.32 104.50 L421.26 104.11 L422.20 103.71 L423.14 103.32 L424.09 102.94 L425.03 102.55 L425.97 102.18 L426.91 101.80 L427.85 101.43 L428.80 101.07 L429.74 100.70 L430.68 100.35 L431.62 99.99 L432.56 99.64 L433.50 99.29 L434.45 98.95 L435.39 98.61 L436.33 98.28 L437.27 97.95 L438.21 97.63 L439.16 97.30 L440.10 96.99 L441.04 96.67 L441.98 96.37 L442.92 96.06 L443.87 95.76 L444.81 95.46 L445.75 95.17 L446.69 94.88 L447.63 94.60 L448.57 94.32 L449.52 94.05 L450.46 93.78 L451.40 93.51" fill="none" stroke="#4a148c" stroke-width="2.00" stroke-linejoin="round" stroke-dasharray="11.5 12.9"/>
<path d="M557.45 380.53H564.25M557.45 375.63H564.25M560.85 374.68V381.48M595.44 415.97V412.65M595.44 397.98V401.85M592.04 415.97H598.84M592.04 397.98H598.84M625.87 485.48H632.67M625.87 482.21H632.67M648.57 522.28H655.37M648.57 519.01H655.37M683.16 580.62H689.96M683.16 572.44H689.96M706.16 603.79H712.96M706.16 603.79H712.96M709.56 600.39V607.19M743.54 603.79V602.10M743.54 589.34V591.30M740.14 603.79H746.94M740.14 589.34H746.94M763.15 574.90H769.95M763.15 574.90H769.95M766.55 571.50V578.30M800.53 567.26V565.30M800.53 552.82V554.50M797.13 567.26H803.93M797.13 552.82H803.93M819.98 534.55H826.78M819.98 534.55H826.78M823.38 531.15V537.95M854.57 547.36H861.37M854.57 547.36H861.37M857.97 543.96V550.76M877.57 561.54H884.37M877.57 558.27H884.37" stroke="#ec8012" stroke-width="2.00" fill="none"/>
<polygon points="560.85,372.48 556.00,375.28 556.00,380.88 560.85,383.68 565.70,380.88 565.70,375.28" fill="none" stroke="#ec8012" stroke-width="2.00"/>
<polygon points="595.44,401.65 590.59,404.45 590.59,410.05 595.44,412.85 600.29,410.05 600.29,404.45" fill="none" stroke="#ec8012" stroke-width="2.00"/>
<polygon points="629.27,478.25 624.42,481.05 624.42,486.65 629.27,489.45 634.12,486.65 634.12,481.05" fill="none" stroke="#ec8012" stroke-width="2.00"/>
<polygon points="651.97,515.05 647.12,517.85 647.12,523.45 651.97,526.25 656.82,523.45 656.82,517.85" fill="none" stroke="#ec8012" stroke-width="2.00"/>
<polygon points="686.56,570.93 681.71,573.73 681.71,579.33 686.56,582.13 691.41,579.33 691.41,573.73" fill="none" stroke="#ec8012" stroke-width="2.00"/>
<polygon points="709.56,598.19 704.71,600.99 704.71,606.59 709.56,609.39 714.41,606.59 714.41,600.99" fill="none" stroke="#ec8012" stroke-width="2.00"/>
<polygon points="743.54,591.10 738.69,593.90 738.69,599.50 743.54,602.30 748.39,599.50 748.39,593.90" fill="none" stroke="#ec8012" stroke-width="2.00"/>
<polygon points="766.55,569.30 761.70,572.10 761.70,577.70 766.55,580.50 771.40,577.70 771.40,572.10" fill="none" stroke="#ec8012" stroke-width="2.00"/>
<polygon points="800.53,554.30 795.68,557.10 795.68,562.70 800.53,565.50 805.38,562.70 805.38,557.10" fill="none" stroke="#ec8012" stroke-width="2.00"/>
<polygon points="823.38,528.95 818.53,531.75 818.53,537.35 823.38,540.15 828.23,537.35 828.23,531.75" fill="none" stroke="#ec8012" stroke-width="2.00"/>
<polygon points="857.97,541.76 853.12,544.56 853.12,550.16 857.97,552.96 862.82,550.16 862.82,544.56" fill="none" stroke="#ec8012" stroke-width="2.00"/>
<polygon points="880.97,554.30 876.12,557.10 876.12,562.70 880.97,565.50 885.82,562.70 885.82,557.10" fill="none" stroke="#ec8012" stroke-width="2.00"/>
<path d="M561.01 591.52V591.39M561.01 582.26V582.39M557.61 591.52H564.41M557.61 582.26H564.41M595.14 565.08V560.59M595.14 547.36V551.59M591.74 565.08H598.54M591.74 547.36H598.54M629.12 530.46V530.33M629.12 521.19V521.33M625.72 530.46H632.52M625.72 521.19H632.52M651.97 510.29V510.16M651.97 501.02V501.16M648.57 510.29H655.37M648.57 501.02H655.37M686.56 499.66V493.80M686.56 478.40V484.80M683.16 499.66H689.96M683.16 478.40H689.96M706.16 504.02H712.96M706.16 500.75H712.96M740.14 533.46H746.94M740.14 530.19H746.94M766.55 557.18V557.04M766.55 547.91V548.04M763.15 557.18H769.95M763.15 547.91H769.95M797.13 587.16H803.93M797.13 583.89H803.93M819.98 612.79H826.78M819.98 612.79H826.78M823.38 609.39V616.19M857.97 602.97V602.84M857.97 593.71V593.84M854.57 602.97H861.37M854.57 593.71H861.37M880.97 579.80V579.67M880.97 570.53V570.67M877.57 579.80H884.37M877.57 570.53H884.37" stroke="#4a148c" stroke-width="2.00" fill="none"/>
<rect x="556.46" y="582.34" width="9.10" height="9.10" fill="none" stroke="#4a148c" stroke-width="2.00"/>
<rect x="590.59" y="551.54" width="9.10" height="9.10" fill="none" stroke="#4a148c" stroke-width="2.00"/>
<rect x="624.57" y="521.28" width="9.10" height="9.10" fill="none" stroke="#4a148c" stroke-width="2.00"/>
<rect x="647.42" y="501.11" width="9.10" height="9.10" fill="none" stroke="#4a148c" stroke-width="2.00"/>
<rect x="682.01" y="484.75" width="9.10" height="9.10" fill="none" stroke="#4a148c" stroke-width="2.00"/>
<rect x="705.01" y="497.83" width="9.10" height="9.10" fill="none" stroke="#4a148c" stroke-width="2.00"/>
<rect x="738.99" y="527.28" width="9.10" height="9.10" fill="none" stroke="#4a148c" stroke-width="2.00"/>
<rect x="762.00" y="547.99" width="9.10" height="9.10" fill="none" stroke="#4a148c" stroke-width="2.00"/>
<rect x="795.98" y="580.98" width="9.10" height="9.10" fill="none" stroke="#4a148c" stroke-width="2.00"/>
<rect x="818.83" y="608.24" width="9.10" height="9.10" fill="none" stroke="#4a148c" stroke-width="2.00"/>
<rect x="853.42" y="593.79" width="9.10" height="9.10" fill="none" stroke="#4a148c" stroke-width="2.00"/>
<rect x="876.42" y="570.62" width="9.10" height="9.10" fill="none" stroke="#4a148c" stroke-width="2.00"/>
<path d="M538.00 353.00 L538.47 353.00 L538.94 353.01 L539.41 353.02 L539.88 353.04 L540.35 353.07 L540.82 353.10 L541.29 353.13 L541.76 353.17 L542.23 353.22 L542.70 353.27 L543.18 353.32 L543.65 353.38 L544.12 353.45 L544.59 353.52 L545.06 353.60 L545.53 353.68 L546.00 353.77 L546.47 353.86 L546.94 353.96 L547.41 354.07 L547.88 354.18 L548.35 354.29 L548.82 354.41 L549.29 354.54 L549.76 354.67 L550.23 354.80 L550.70 354.94 L551.17 355.09 L551.64 355.24 L552.11 355.40 L552.58 355.56 L553.05 355.73 L553.53 355.90 L554.00 356.08 L554.47 356.26 L554.94 356.45 L555.41 356.64 L555.88 356.84 L556.35 357.04 L556.82 357.25 L557.29 357.47 L557.76 357.69 L558.23 357.91 L558.70 358.14 L559.17 358.38 L559.64 358.62 L560.11 358.86 L560.58 359.11 L561.05 359.37 L561.52 359.63 L561.99 359.90 L562.46 360.17 L562.93 360.45 L563.41 360.73 L563.88 361.01 L564.35 361.31 L564.82 361.60 L565.29 361.90 L565.76 362.21 L566.23 362.52 L566.70 362.84 L567.17 363.16 L567.64 363.49 L568.11 363.82 L568.58 364.16 L569.05 364.50 L569.52 364.85 L569.99 365.20 L570.46 365.56 L570.93 365.92 L571.40 366.29 L571.87 366.66 L572.34 367.04 L572.81 367.42 L573.28 367.81 L573.76 368.20 L574.23 368.60 L574.70 369.00 L575.17 369.40 L575.64 369.81 L576.11 370.23 L576.58 370.65 L577.05 371.08 L577.52 371.51 L577.99 371.94 L578.46 372.38 L578.93 372.83 L579.40 373.28 L579.87 373.73 L580.34 374.19 L580.81 374.66 L581.28 375.12 L581.75 375.60 L582.22 376.08 L582.69 376.56 L583.16 377.05 L583.63 377.54 L584.11 378.03 L584.58 378.54 L585.05 379.04 L585.52 379.55 L585.99 380.07 L586.46 380.59 L586.93 381.11 L587.40 381.64 L587.87 382.17 L588.34 382.71 L588.81 383.25 L589.28 383.80 L589.75 384.35 L590.22 384.90 L590.69 385.46 L591.16 386.03 L591.63 386.60 L592.10 387.17 L592.57 387.75 L593.04 388.33 L593.51 388.91 L593.99 389.50 L594.46 390.10 L594.93 390.70 L595.40 391.30 L595.87 391.91 L596.34 392.52 L596.81 393.13 L597.28 393.75 L597.75 394.37 L598.22 395.00 L598.69 395.63 L599.16 396.27 L599.63 396.91 L600.10 397.55 L600.57 398.20 L601.04 398.86 L601.51 399.51 L601.98 400.17 L602.45 400.84 L602.92 401.50 L603.39 402.18 L603.86 402.85 L604.34 403.53 L604.81 404.21 L605.28 404.90 L605.75 405.59 L606.22 406.29 L606.69 406.99 L607.16 407.69 L607.63 408.40 L608.10 409.11 L608.57 409.82 L609.04 410.54 L609.51 411.26 L609.98 411.98 L610.45 412.71 L610.92 413.44 L611.39 414.18 L611.86 414.92 L612.33 415.66 L612.80 416.41 L613.27 417.16 L613.74 417.91 L614.22 418.67 L614.69 419.43 L615.16 420.19 L615.63 420.96 L616.10 421.73 L616.57 422.50 L617.04 423.28 L617.51 424.06 L617.98 424.84 L618.45 425.63 L618.92 426.42 L619.39 427.21 L619.86 428.01 L620.33 428.81 L620.80 429.61 L621.27 430.41 L621.74 431.22 L622.21 432.03 L622.68 432.85 L623.15 433.67 L623.62 434.49 L624.09 435.31 L624.57 436.14 L625.04 436.97 L625.51 437.80 L625.98 438.63 L626.45 439.47 L626.92 440.31 L627.39 441.16 L627.86 442.00 L628.33 442.85 L628.80 443.71 L629.27 444.56 L629.74 445.42 L630.21 446.28 L630.68 447.14 L631.15 448.01 L631.62 448.87 L632.09 449.74 L632.56 450.62 L633.03 451.49 L633.50 452.37 L633.97 453.25 L634.44 454.13 L634.92 455.02 L635.39 455.91 L635.86 456.80 L636.33 457.69 L636.80 458.58 L637.27 459.48 L637.74 460.38 L638.21 461.28 L638.68 462.18 L639.15 463.09 L639.62 464.00 L640.09 464.91 L640.56 465.82 L641.03 466.73 L641.50 467.65 L641.97 468.57 L642.44 469.49 L642.91 470.41 L643.38 471.33 L643.85 472.26 L644.32 473.19 L644.80 474.12 L645.27 475.05 L645.74 475.98 L646.21 476.92 L646.68 477.85 L647.15 478.79 L647.62 479.73 L648.09 480.68 L648.56 481.62 L649.03 482.56 L649.50 483.51 L649.97 484.46 L650.44 485.41 L650.91 486.36 L651.38 487.31 L651.85 488.27 L652.32 489.22 L652.79 490.18 L653.26 491.14 L653.73 492.10 L654.20 493.06 L654.67 494.02 L655.15 494.99 L655.62 495.95 L656.09 496.92 L656.56 497.89 L657.03 498.86 L657.50 499.83 L657.97 500.80 L658.44 501.77 L658.91 502.74 L659.38 503.72 L659.85 504.69 L660.32 505.67 L660.79 506.64 L661.26 507.62 L661.73 508.60 L662.20 509.58 L662.67 510.56 L663.14 511.54 L663.61 512.52 L664.08 513.51 L664.55 514.49 L665.03 515.47 L665.50 516.46 L665.97 517.44 L666.44 518.43 L666.91 519.42 L667.38 520.40 L667.85 521.39 L668.32 522.38 L668.79 523.37 L669.26 524.36 L669.73 525.35 L670.20 526.34 L670.67 527.33 L671.14 528.32 L671.61 529.31 L672.08 530.30 L672.55 531.29 L673.02 532.28 L673.49 533.28 L673.96 534.27 L674.43 535.26 L674.90 536.25 L675.38 537.25 L675.85 538.24 L676.32 539.23 L676.79 540.22 L677.26 541.22 L677.73 542.21 L678.20 543.20 L678.67 544.19 L679.14 545.19 L679.61 546.18 L680.08 547.17 L680.55 548.16 L681.02 549.15 L681.49 550.14 L681.96 551.13 L682.43 552.13 L682.90 553.12 L683.37 554.11 L683.84 555.09 L684.31 556.08 L684.78 557.07 L685.25 558.06 L685.73 559.05 L686.20 560.03 L686.67 561.02 L687.14 562.01 L687.61 562.99 L688.08 563.98 L688.55 564.96 L689.02 565.94 L689.49 566.93 L689.96 567.91 L690.43 568.89 L690.90 569.87 L691.37 570.85 L691.84 571.83 L692.31 572.80 L692.78 573.78 L693.25 574.76 L693.72 575.73 L694.19 576.71 L694.66 577.68 L695.13 578.65 L695.61 579.62 L696.08 580.59 L696.55 581.56 L697.02 582.53 L697.49 583.49 L697.96 584.46 L698.43 585.42 L698.90 586.38 L699.37 587.34 L699.84 588.30 L700.31 589.26 L700.78 590.22 L701.25 591.18 L701.72 592.13 L702.19 593.08 L702.66 594.03 L703.13 594.98 L703.60 595.93 L704.07 596.88 L704.54 597.82 L705.01 598.77 L705.48 599.71 L705.96 600.65 L706.43 601.59 L706.90 602.53 L707.37 603.46 L707.84 604.40 L708.31 605.33 L708.78 606.26 L709.25 607.19 L709.72 608.11 L710.19 609.04 L710.66 609.96 L711.13 610.88 L711.60 611.80 L712.07 612.72 L712.54 613.63 L713.01 614.55 L713.48 615.46 L713.95 616.37 L714.42 617.28 L714.89 618.18 L715.36 619.08 L715.84 619.98 L716.31 620.88 L716.78 621.78 L717.25 622.67 L717.72 623.56 L718.19 624.45 L718.66 625.34 L719.13 624.97 L719.60 624.09 L720.07 623.21 L720.54 622.33 L721.01 621.46 L721.48 620.58 L721.95 619.71 L722.42 618.84 L722.89 617.98 L723.36 617.11 L723.83 616.25 L724.30 615.39 L724.77 614.54 L725.24 613.69 L725.71 612.83 L726.19 611.99 L726.66 611.14 L727.13 610.30 L727.60 609.46 L728.07 608.62 L728.54 607.79 L729.01 606.96 L729.48 606.13 L729.95 605.30 L730.42 604.48 L730.89 603.66 L731.36 602.84 L731.83 602.02 L732.30 601.21 L732.77 600.40 L733.24 599.60 L733.71 598.79 L734.18 597.99 L734.65 597.20 L735.12 596.40 L735.59 595.61 L736.06 594.82 L736.54 594.04 L737.01 593.26 L737.48 592.48 L737.95 591.70 L738.42 590.93 L738.89 590.16 L739.36 589.39 L739.83 588.63 L740.30 587.87 L740.77 587.12 L741.24 586.36 L741.71 585.61 L742.18 584.87 L742.65 584.12 L743.12 583.38 L743.59 582.65 L744.06 581.91 L744.53 581.18 L745.00 580.46 L745.47 579.73 L745.94 579.01 L746.42 578.30 L746.89 577.58 L747.36 576.88 L747.83 576.17 L748.30 575.47 L748.77 574.77 L749.24 574.07 L749.71 573.38 L750.18 572.69 L750.65 572.01 L751.12 571.33 L751.59 570.65 L752.06 569.98 L752.53 569.31 L753.00 568.64 L753.47 567.98 L753.94 567.32 L754.41 566.66 L754.88 566.01 L755.35 565.37 L755.82 564.72 L756.29 564.08 L756.77 563.45 L757.24 562.81 L757.71 562.18 L758.18 561.56 L758.65 560.94 L759.12 560.32 L759.59 559.71 L760.06 559.10 L760.53 558.49 L761.00 557.89 L761.47 557.29 L761.94 556.70 L762.41 556.11 L762.88 555.52 L763.35 554.94 L763.82 554.36 L764.29 553.79 L764.76 553.22 L765.23 552.65 L765.70 552.09 L766.17 551.53 L766.65 550.98 L767.12 550.43 L767.59 549.88 L768.06 549.34 L768.53 548.80 L769.00 548.27 L769.47 547.74 L769.94 547.22 L770.41 546.70 L770.88 546.18 L771.35 545.67 L771.82 545.16 L772.29 544.65 L772.76 544.15 L773.23 543.66 L773.70 543.16 L774.17 542.68 L774.64 542.19 L775.11 541.71 L775.58 541.24 L776.05 540.77 L776.52 540.30 L777.00 539.84 L777.47 539.38 L777.94 538.93 L778.41 538.48 L778.88 538.03 L779.35 537.59 L779.82 537.15 L780.29 536.72 L780.76 536.29 L781.23 535.87 L781.70 535.45 L782.17 535.04 L782.64 534.63 L783.11 534.22 L783.58 533.82 L784.05 533.42 L784.52 533.03 L784.99 532.64 L785.46 532.25 L785.93 531.87 L786.40 531.50 L786.87 531.13 L787.35 530.76 L787.82 530.40 L788.29 530.04 L788.76 529.68 L789.23 529.34 L789.70 528.99 L790.17 528.65 L790.64 528.31 L791.11 527.98 L791.58 527.66 L792.05 527.33 L792.52 527.01 L792.99 526.70 L793.46 526.39 L793.93 526.09 L794.40 525.79 L794.87 525.49 L795.34 525.20 L795.81 524.91 L796.28 524.63 L796.75 524.35 L797.23 524.08 L797.70 523.81 L798.17 523.54 L798.64 523.28 L799.11 523.03 L799.58 522.77 L800.05 522.53 L800.52 522.29 L800.99 522.05 L801.46 521.81 L801.93 521.59 L802.40 521.36 L802.87 521.14 L803.34 520.93 L803.81 520.71 L804.28 520.51 L804.75 520.31 L805.22 520.11 L805.69 519.91 L806.16 519.73 L806.63 519.54 L807.10 519.36 L807.58 519.19 L808.05 519.02 L808.52 518.85 L808.99 518.69 L809.46 518.53 L809.93 518.38 L810.40 518.23 L810.87 518.08 L811.34 517.95 L811.81 517.81 L812.28 517.68 L812.75 517.55 L813.22 517.43 L813.69 517.31 L814.16 517.20 L814.63 517.09 L815.10 516.99 L815.57 516.89 L816.04 516.79 L816.51 516.70 L816.98 516.62 L817.46 516.53 L817.93 516.46 L818.40 516.38 L818.87 516.32 L819.34 516.25 L819.81 516.19 L820.28 516.14 L820.75 516.08 L821.22 516.04 L821.69 515.99 L822.16 515.96 L822.63 515.92 L823.10 515.89 L823.57 515.87 L824.04 515.85 L824.51 515.83 L824.98 515.82 L825.45 515.81 L825.92 515.81 L826.39 515.81 L826.86 515.81 L827.33 515.82 L827.81 515.84 L828.28 515.86 L828.75 515.88 L829.22 515.90 L829.69 515.93 L830.16 515.97 L830.63 516.01 L831.10 516.05 L831.57 516.10 L832.04 516.15 L832.51 516.21 L832.98 516.27 L833.45 516.33 L833.92 516.40 L834.39 516.47 L834.86 516.55 L835.33 516.63 L835.80 516.72 L836.27 516.81 L836.74 516.90 L837.21 517.00 L837.68 517.10 L838.16 517.20 L838.63 517.31 L839.10 517.43 L839.57 517.55 L840.04 517.67 L840.51 517.79 L840.98 517.92 L841.45 518.06 L841.92 518.20 L842.39 518.34 L842.86 518.48 L843.33 518.63 L843.80 518.79 L844.27 518.95 L844.74 519.11 L845.21 519.27 L845.68 519.44 L846.15 519.62 L846.62 519.79 L847.09 519.98 L847.56 520.16 L848.04 520.35 L848.51 520.54 L848.98 520.74 L849.45 520.94 L849.92 521.14 L850.39 521.35 L850.86 521.56 L851.33 521.78 L851.80 522.00 L852.27 522.22 L852.74 522.45 L853.21 522.68 L853.68 522.91 L854.15 523.15 L854.62 523.39 L855.09 523.64 L855.56 523.89 L856.03 524.14 L856.50 524.39 L856.97 524.65 L857.44 524.92 L857.91 525.18 L858.39 525.45 L858.86 525.73 L859.33 526.00 L859.80 526.28 L860.27 526.57 L860.74 526.86 L861.21 527.15 L861.68 527.44 L862.15 527.74 L862.62 528.04 L863.09 528.35 L863.56 528.65 L864.03 528.97 L864.50 529.28 L864.97 529.60 L865.44 529.92 L865.91 530.24 L866.38 530.57 L866.85 530.90 L867.32 531.24 L867.79 531.57 L868.27 531.92 L868.74 532.26 L869.21 532.61 L869.68 532.96 L870.15 533.31 L870.62 533.67 L871.09 534.03 L871.56 534.39 L872.03 534.75 L872.50 535.12 L872.97 535.50 L873.44 535.87 L873.91 536.25 L874.38 536.63 L874.85 537.01 L875.32 537.40 L875.79 537.79 L876.26 538.18 L876.73 538.58 L877.20 538.97 L877.67 539.38 L878.14 539.78 L878.62 540.19 L879.09 540.60 L879.56 541.01 L880.03 541.42 L880.50 541.84 L880.97 542.26 L881.44 542.68 L881.91 543.11 L882.38 543.54 L882.85 543.97 L883.32 544.40 L883.79 544.84 L884.26 545.28 L884.73 545.72 L885.20 546.16 L885.67 546.61 L886.14 547.06 L886.61 547.51 L887.08 547.96 L887.55 548.42 L888.02 548.88 L888.49 549.34 L888.97 549.80 L889.44 550.27 L889.91 550.73 L890.38 551.20 L890.85 551.68 L891.32 552.15 L891.79 552.63 L892.26 553.11 L892.73 553.59 L893.20 554.07 L893.67 554.56 L894.14 555.05 L894.61 555.54 L895.08 556.03 L895.55 556.52 L896.02 557.02 L896.49 557.52 L896.96 558.02 L897.43 558.52 L897.90 559.03 L898.37 559.53 L898.85 560.04 L899.32 560.55 L899.79 561.06 L900.26 561.58 L900.73 562.09 L901.20 562.61 L901.67 563.13 L902.14 563.65 L902.61 564.17 L903.08 564.70 L903.55 565.22 L904.02 565.75 L904.49 566.28 L904.96 566.81 L905.43 567.34 L905.90 567.88 L906.37 568.41 L906.84 568.95 L907.31 569.49 L907.78 570.03 L908.25 570.57 L908.72 571.12 L909.20 571.66 L909.67 572.21 L910.14 572.76 L910.61 573.31 L911.08 573.86 L911.55 574.41 L912.02 574.96 L912.49 575.52 L912.96 576.07 L913.43 576.63 L913.90 577.19" fill="none" stroke="#ec8012" stroke-width="2.00" stroke-linejoin="round"/>
<path d="M538.00 625.60 L538.47 624.75 L538.94 623.89 L539.41 623.04 L539.88 622.19 L540.35 621.34 L540.82 620.48 L541.29 619.63 L541.76 618.78 L542.23 617.93 L542.70 617.07 L543.18 616.22 L543.65 615.37 L544.12 614.52 L544.59 613.67 L545.06 612.82 L545.53 611.97 L546.00 611.12 L546.47 610.27 L546.94 609.42 L547.41 608.57 L547.88 607.73 L548.35 606.88 L548.82 606.03 L549.29 605.19 L549.76 604.34 L550.23 603.50 L550.70 602.65 L551.17 601.81 L551.64 600.97 L552.11 600.12 L552.58 599.28 L553.05 598.44 L553.53 597.60 L554.00 596.76 L554.47 595.93 L554.94 595.09 L555.41 594.25 L555.88 593.42 L556.35 592.58 L556.82 591.75 L557.29 590.92 L557.76 590.08 L558.23 589.25 L558.70 588.43 L559.17 587.60 L559.64 586.77 L560.11 585.94 L560.58 585.12 L561.05 584.30 L561.52 583.47 L561.99 582.65 L562.46 581.83 L562.93 581.01 L563.41 580.20 L563.88 579.38 L564.35 578.56 L564.82 577.75 L565.29 576.94 L565.76 576.13 L566.23 575.32 L566.70 574.51 L567.17 573.71 L567.64 572.90 L568.11 572.10 L568.58 571.30 L569.05 570.50 L569.52 569.70 L569.99 568.90 L570.46 568.11 L570.93 567.31 L571.40 566.52 L571.87 565.73 L572.34 564.95 L572.81 564.16 L573.28 563.37 L573.76 562.59 L574.23 561.81 L574.70 561.03 L575.17 560.26 L575.64 559.48 L576.11 558.71 L576.58 557.94 L577.05 557.17 L577.52 556.40 L577.99 555.63 L578.46 554.87 L578.93 554.11 L579.40 553.35 L579.87 552.59 L580.34 551.84 L580.81 551.09 L581.28 550.34 L581.75 549.59 L582.22 548.84 L582.69 548.10 L583.16 547.36 L583.63 546.62 L584.11 545.88 L584.58 545.15 L585.05 544.41 L585.52 543.68 L585.99 542.96 L586.46 542.23 L586.93 541.51 L587.40 540.79 L587.87 540.07 L588.34 539.36 L588.81 538.64 L589.28 537.93 L589.75 537.22 L590.22 536.52 L590.69 535.82 L591.16 535.12 L591.63 534.42 L592.10 533.73 L592.57 533.03 L593.04 532.35 L593.51 531.66 L593.99 530.98 L594.46 530.29 L594.93 529.62 L595.40 528.94 L595.87 528.27 L596.34 527.60 L596.81 526.93 L597.28 526.27 L597.75 525.61 L598.22 524.95 L598.69 524.29 L599.16 523.64 L599.63 522.99 L600.10 522.35 L600.57 521.70 L601.04 521.06 L601.51 520.42 L601.98 519.79 L602.45 519.16 L602.92 518.53 L603.39 517.91 L603.86 517.28 L604.34 516.67 L604.81 516.05 L605.28 515.44 L605.75 514.83 L606.22 514.22 L606.69 513.62 L607.16 513.02 L607.63 512.42 L608.10 511.83 L608.57 511.24 L609.04 510.66 L609.51 510.07 L609.98 509.49 L610.45 508.92 L610.92 508.34 L611.39 507.77 L611.86 507.21 L612.33 506.65 L612.80 506.09 L613.27 505.53 L613.74 504.98 L614.22 504.43 L614.69 503.89 L615.16 503.34 L615.63 502.81 L616.10 502.27 L616.57 501.74 L617.04 501.21 L617.51 500.69 L617.98 500.17 L618.45 499.65 L618.92 499.14 L619.39 498.63 L619.86 498.12 L620.33 497.62 L620.80 497.12 L621.27 496.63 L621.74 496.14 L622.21 495.65 L622.68 495.17 L623.15 494.69 L623.62 494.21 L624.09 493.74 L624.57 493.27 L625.04 492.81 L625.51 492.35 L625.98 491.89 L626.45 491.44 L626.92 490.99 L627.39 490.54 L627.86 490.10 L628.33 489.66 L628.80 489.23 L629.27 488.80 L629.74 488.37 L630.21 487.95 L630.68 487.53 L631.15 487.12 L631.62 486.71 L632.09 486.30 L632.56 485.90 L633.03 485.50 L633.50 485.11 L633.97 484.72 L634.44 484.33 L634.92 483.95 L635.39 483.57 L635.86 483.20 L636.33 482.83 L636.80 482.46 L637.27 482.10 L637.74 481.75 L638.21 481.39 L638.68 481.04 L639.15 480.70 L639.62 480.36 L640.09 480.02 L640.56 479.69 L641.03 479.36 L641.50 479.03 L641.97 478.71 L642.44 478.40 L642.91 478.09 L643.38 477.78 L643.85 477.48 L644.32 477.18 L644.80 476.88 L645.27 476.59 L645.74 476.30 L646.21 476.02 L646.68 475.74 L647.15 475.47 L647.62 475.20 L648.09 474.94 L648.56 474.68 L649.03 474.42 L649.50 474.17 L649.97 473.92 L650.44 473.67 L650.91 473.44 L651.38 473.20 L651.85 472.97 L652.32 472.74 L652.79 472.52 L653.26 472.30 L653.73 472.09 L654.20 471.88 L654.67 471.67 L655.15 471.47 L655.62 471.28 L656.09 471.09 L656.56 470.90 L657.03 470.72 L657.50 470.54 L657.97 470.36 L658.44 470.19 L658.91 470.03 L659.38 469.87 L659.85 469.71 L660.32 469.56 L660.79 469.41 L661.26 469.26 L661.73 469.12 L662.20 468.99 L662.67 468.86 L663.14 468.73 L663.61 468.61 L664.08 468.49 L664.55 468.38 L665.03 468.27 L665.50 468.17 L665.97 468.07 L666.44 467.97 L666.91 467.88 L667.38 467.79 L667.85 467.71 L668.32 467.63 L668.79 467.56 L669.26 467.49 L669.73 467.43 L670.20 467.37 L670.67 467.31 L671.14 467.26 L671.61 467.21 L672.08 467.17 L672.55 467.13 L673.02 467.10 L673.49 467.07 L673.96 467.04 L674.43 467.02 L674.90 467.01 L675.38 466.99 L675.85 466.99 L676.32 466.98 L676.79 466.98 L677.26 466.99 L677.73 467.00 L678.20 467.01 L678.67 467.03 L679.14 467.06 L679.61 467.08 L680.08 467.12 L680.55 467.15 L681.02 467.19 L681.49 467.24 L681.96 467.29 L682.43 467.34 L682.90 467.40 L683.37 467.46 L683.84 467.53 L684.31 467.60 L684.78 467.67 L685.25 467.75 L685.73 467.84 L686.20 467.92 L686.67 468.02 L687.14 468.11 L687.61 468.21 L688.08 468.32 L688.55 468.43 L689.02 468.54 L689.49 468.66 L689.96 468.78 L690.43 468.91 L690.90 469.04 L691.37 469.18 L691.84 469.32 L692.31 469.46 L692.78 469.61 L693.25 469.76 L693.72 469.91 L694.19 470.08 L694.66 470.24 L695.13 470.41 L695.61 470.58 L696.08 470.76 L696.55 470.94 L697.02 471.13 L697.49 471.31 L697.96 471.51 L698.43 471.71 L698.90 471.91 L699.37 472.11 L699.84 472.32 L700.31 472.54 L700.78 472.76 L701.25 472.98 L701.72 473.21 L702.19 473.44 L702.66 473.67 L703.13 473.91 L703.60 474.15 L704.07 474.40 L704.54 474.65 L705.01 474.90 L705.48 475.16 L705.96 475.42 L706.43 475.69 L706.90 475.96 L707.37 476.24 L707.84 476.51 L708.31 476.80 L708.78 477.08 L709.25 477.37 L709.72 477.67 L710.19 477.96 L710.66 478.27 L711.13 478.57 L711.60 478.88 L712.07 479.19 L712.54 479.51 L713.01 479.83 L713.48 480.16 L713.95 480.49 L714.42 480.82 L714.89 481.15 L715.36 481.49 L715.84 481.84 L716.31 482.18 L716.78 482.53 L717.25 482.89 L717.72 483.25 L718.19 483.61 L718.66 483.97 L719.13 484.34 L719.60 484.71 L720.07 485.09 L720.54 485.47 L721.01 485.85 L721.48 486.24 L721.95 486.63 L722.42 487.03 L722.89 487.42 L723.36 487.82 L723.83 488.23 L724.30 488.64 L724.77 489.05 L725.24 489.46 L725.71 489.88 L726.19 490.30 L726.66 490.73 L727.13 491.16 L727.60 491.59 L728.07 492.02 L728.54 492.46 L729.01 492.90 L729.48 493.35 L729.95 493.80 L730.42 494.25 L730.89 494.70 L731.36 495.16 L731.83 495.62 L732.30 496.09 L732.77 496.56 L733.24 497.03 L733.71 497.50 L734.18 497.98 L734.65 498.46 L735.12 498.94 L735.59 499.43 L736.06 499.92 L736.54 500.41 L737.01 500.91 L737.48 501.41 L737.95 501.91 L738.42 502.41 L738.89 502.92 L739.36 503.43 L739.83 503.94 L740.30 504.46 L740.77 504.98 L741.24 505.50 L741.71 506.03 L742.18 506.55 L742.65 507.09 L743.12 507.62 L743.59 508.15 L744.06 508.69 L744.53 509.24 L745.00 509.78 L745.47 510.33 L745.94 510.88 L746.42 511.43 L746.89 511.98 L747.36 512.54 L747.83 513.10 L748.30 513.66 L748.77 514.23 L749.24 514.80 L749.71 515.37 L750.18 515.94 L750.65 516.52 L751.12 517.10 L751.59 517.68 L752.06 518.26 L752.53 518.84 L753.00 519.43 L753.47 520.02 L753.94 520.61 L754.41 521.21 L754.88 521.80 L755.35 522.40 L755.82 523.01 L756.29 523.61 L756.77 524.21 L757.24 524.82 L757.71 525.43 L758.18 526.05 L758.65 526.66 L759.12 527.28 L759.59 527.90 L760.06 528.52 L760.53 529.14 L761.00 529.76 L761.47 530.39 L761.94 531.02 L762.41 531.65 L762.88 532.28 L763.35 532.92 L763.82 533.55 L764.29 534.19 L764.76 534.83 L765.23 535.48 L765.70 536.12 L766.17 536.77 L766.65 537.41 L767.12 538.06 L767.59 538.71 L768.06 539.37 L768.53 540.02 L769.00 540.68 L769.47 541.33 L769.94 541.99 L770.41 542.65 L770.88 543.32 L771.35 543.98 L771.82 544.65 L772.29 545.31 L772.76 545.98 L773.23 546.65 L773.70 547.32 L774.17 548.00 L774.64 548.67 L775.11 549.35 L775.58 550.02 L776.05 550.70 L776.52 551.38 L777.00 552.06 L777.47 552.74 L777.94 553.43 L778.41 554.11 L778.88 554.80 L779.35 555.48 L779.82 556.17 L780.29 556.86 L780.76 557.55 L781.23 558.24 L781.70 558.93 L782.17 559.63 L782.64 560.32 L783.11 561.02 L783.58 561.71 L784.05 562.41 L784.52 563.11 L784.99 563.81 L785.46 564.51 L785.93 565.21 L786.40 565.91 L786.87 566.61 L787.35 567.32 L787.82 568.02 L788.29 568.72 L788.76 569.43 L789.23 570.14 L789.70 570.84 L790.17 571.55 L790.64 572.26 L791.11 572.97 L791.58 573.67 L792.05 574.38 L792.52 575.09 L792.99 575.80 L793.46 576.52 L793.93 577.23 L794.40 577.94 L794.87 578.65 L795.34 579.36 L795.81 580.08 L796.28 580.79 L796.75 581.50 L797.23 582.22 L797.70 582.93 L798.17 583.65 L798.64 584.36 L799.11 585.08 L799.58 585.79 L800.05 586.51 L800.52 587.22 L800.99 587.94 L801.46 588.65 L801.93 589.37 L802.40 590.08 L802.87 590.80 L803.34 591.51 L803.81 592.23 L804.28 592.94 L804.75 593.66 L805.22 594.37 L805.69 595.09 L806.16 595.80 L806.63 596.52 L807.10 597.23 L807.58 597.95 L808.05 598.66 L808.52 599.38 L808.99 600.09 L809.46 600.80 L809.93 601.52 L810.40 602.23 L810.87 602.94 L811.34 603.65 L811.81 604.36 L812.28 605.07 L812.75 605.78 L813.22 606.49 L813.69 607.20 L814.16 607.91 L814.63 608.62 L815.10 609.33 L815.57 610.03 L816.04 610.74 L816.51 611.45 L816.98 612.15 L817.46 612.86 L817.93 613.56 L818.40 614.26 L818.87 614.96 L819.34 615.67 L819.81 616.37 L820.28 617.07 L820.75 617.77 L821.22 618.46 L821.69 619.16 L822.16 619.86 L822.63 620.55 L823.10 621.25 L823.57 621.94 L824.04 622.63 L824.51 623.32 L824.98 624.01 L825.45 624.70 L825.92 625.39 L826.39 625.12 L826.86 624.44 L827.33 623.75 L827.81 623.07 L828.28 622.39 L828.75 621.71 L829.22 621.03 L829.69 620.35 L830.16 619.67 L830.63 619.00 L831.10 618.32 L831.57 617.65 L832.04 616.98 L832.51 616.31 L832.98 615.64 L833.45 614.97 L833.92 614.30 L834.39 613.64 L834.86 612.98 L835.33 612.31 L835.80 611.65 L836.27 611.00 L836.74 610.34 L837.21 609.68 L837.68 609.03 L838.16 608.38 L838.63 607.73 L839.10 607.08 L839.57 606.43 L840.04 605.79 L840.51 605.14 L840.98 604.50 L841.45 603.86 L841.92 603.22 L842.39 602.58 L842.86 601.95 L843.33 601.32 L843.80 600.69 L844.27 600.06 L844.74 599.43 L845.21 598.80 L845.68 598.18 L846.15 597.56 L846.62 596.94 L847.09 596.32 L847.56 595.71 L848.04 595.09 L848.51 594.48 L848.98 593.87 L849.45 593.27 L849.92 592.66 L850.39 592.06 L850.86 591.46 L851.33 590.86 L851.80 590.26 L852.27 589.67 L852.74 589.08 L853.21 588.49 L853.68 587.90 L854.15 587.31 L854.62 586.73 L855.09 586.15 L855.56 585.57 L856.03 585.00 L856.50 584.42 L856.97 583.85 L857.44 583.28 L857.91 582.71 L858.39 582.15 L858.86 581.59 L859.33 581.03 L859.80 580.47 L860.27 579.92 L860.74 579.37 L861.21 578.82 L861.68 578.27 L862.15 577.73 L862.62 577.19 L863.09 576.65 L863.56 576.11 L864.03 575.58 L864.50 575.04 L864.97 574.52 L865.44 573.99 L865.91 573.47 L866.38 572.95 L866.85 572.43 L867.32 571.91 L867.79 571.40 L868.27 570.89 L868.74 570.38 L869.21 569.88 L869.68 569.38 L870.15 568.88 L870.62 568.38 L871.09 567.89 L871.56 567.40 L872.03 566.91 L872.50 566.43 L872.97 565.95 L873.44 565.47 L873.91 564.99 L874.38 564.52 L874.85 564.05 L875.32 563.58 L875.79 563.12 L876.26 562.66 L876.73 562.20 L877.20 561.75 L877.67 561.29 L878.14 560.84 L878.62 560.40 L879.09 559.96 L879.56 559.52 L880.03 559.08 L880.50 558.65 L880.97 558.21 L881.44 557.79 L881.91 557.36 L882.38 556.94 L882.85 556.52 L883.32 556.11 L883.79 555.70 L884.26 555.29 L884.73 554.88 L885.20 554.48 L885.67 554.08 L886.14 553.68 L886.61 553.29 L887.08 552.90 L887.55 552.52 L888.02 552.13 L888.49 551.75 L888.97 551.38 L889.44 551.00 L889.91 550.63 L890.38 550.27 L890.85 549.90 L891.32 549.54 L891.79 549.19 L892.26 548.83 L892.73 548.48 L893.20 548.14 L893.67 547.79 L894.14 547.45 L894.61 547.12 L895.08 546.78 L895.55 546.45 L896.02 546.13 L896.49 545.80 L896.96 545.49 L897.43 545.17 L897.90 544.86 L898.37 544.55 L898.85 544.24 L899.32 543.94 L899.79 543.64 L900.26 543.34 L900.73 543.05 L901.20 542.76 L901.67 542.48 L902.14 542.20 L902.61 541.92 L903.08 541.64 L903.55 541.37 L904.02 541.10 L904.49 540.84 L904.96 540.58 L905.43 540.32 L905.90 540.07 L906.37 539.82 L906.84 539.57 L907.31 539.33 L907.78 539.09 L908.25 538.85 L908.72 538.62 L909.20 538.39 L909.67 538.17 L910.14 537.95 L910.61 537.73 L911.08 537.51 L911.55 537.30 L912.02 537.10 L912.49 536.89 L912.96 536.69 L913.43 536.49 L913.90 536.30" fill="none" stroke="#4a148c" stroke-width="2.00" stroke-linejoin="round" stroke-dasharray="11.5 12.9"/>
<path d="M109.78 619.61H116.58M109.78 617.43H116.58M124.81 619.33H131.61M124.81 619.33H131.61M128.21 615.93V622.73M139.84 619.88H146.64M139.84 617.15H146.64M154.88 617.15H161.68M154.88 617.15H161.68M158.28 613.75V620.55M169.91 620.15H176.71M169.91 620.15H176.71M173.31 616.75V623.55M184.94 620.97H191.74M184.94 620.97H191.74M188.34 617.57V624.37M199.97 621.51H206.77M199.97 621.51H206.77M203.37 618.11V624.91M215.00 620.15H221.80M215.00 620.15H221.80M218.40 616.75V623.55M230.04 620.15H236.84M230.04 620.15H236.84M233.44 616.75V623.55M252.58 617.43H259.38M252.58 608.16H259.38M275.13 619.33H281.93M275.13 619.33H281.93M278.53 615.93V622.73M297.68 619.33H304.48M297.68 611.70H304.48M320.23 618.79H327.03M320.23 618.79H327.03M323.63 615.39V622.19M342.78 619.06H349.58M342.78 609.25H349.58M365.32 618.24H372.12M365.32 618.24H372.12M368.72 614.84V621.64M387.87 620.70H394.67M387.87 617.97H394.67M410.42 618.24H417.22M410.42 618.24H417.22M413.82 614.84V621.64M432.97 619.33H439.77M432.97 619.33H439.77M436.37 615.93V622.73" stroke="#ec8012" stroke-width="2.00" fill="none"/>
<polygon points="113.18,612.91 108.33,615.72 108.33,621.31 113.18,624.12 118.03,621.31 118.03,615.72" fill="none" stroke="#ec8012" stroke-width="2.00"/>
<polygon points="128.21,613.73 123.36,616.53 123.36,622.13 128.21,624.93 133.06,622.13 133.06,616.53" fill="none" stroke="#ec8012" stroke-width="2.00"/>
<polygon points="143.24,612.91 138.39,615.72 138.39,621.31 143.24,624.12 148.09,621.31 148.09,615.72" fill="none" stroke="#ec8012" stroke-width="2.00"/>
<polygon points="158.28,611.55 153.43,614.35 153.43,619.95 158.28,622.75 163.13,619.95 163.13,614.35" fill="none" stroke="#ec8012" stroke-width="2.00"/>
<polygon points="173.31,614.55 168.46,617.35 168.46,622.95 173.31,625.75 178.16,622.95 178.16,617.35" fill="none" stroke="#ec8012" stroke-width="2.00"/>
<polygon points="188.34,615.37 183.49,618.17 183.49,623.77 188.34,626.57 193.19,623.77 193.19,618.17" fill="none" stroke="#ec8012" stroke-width="2.00"/>
<polygon points="203.37,615.91 198.52,618.71 198.52,624.31 203.37,627.11 208.22,624.31 208.22,618.71" fill="none" stroke="#ec8012" stroke-width="2.00"/>
<polygon points="218.40,614.55 213.55,617.35 213.55,622.95 218.40,625.75 223.25,622.95 223.25,617.35" fill="none" stroke="#ec8012" stroke-width="2.00"/>
<polygon points="233.44,614.55 228.59,617.35 228.59,622.95 233.44,625.75 238.29,622.95 238.29,617.35" fill="none" stroke="#ec8012" stroke-width="2.00"/>
<polygon points="255.98,607.19 251.13,609.99 251.13,615.59 255.98,618.39 260.83,615.59 260.83,609.99" fill="none" stroke="#ec8012" stroke-width="2.00"/>
<polygon points="278.53,613.73 273.68,616.53 273.68,622.13 278.53,624.93 283.38,622.13 283.38,616.53" fill="none" stroke="#ec8012" stroke-width="2.00"/>
<polygon points="301.08,609.92 296.23,612.72 296.23,618.32 301.08,621.12 305.93,618.32 305.93,612.72" fill="none" stroke="#ec8012" stroke-width="2.00"/>
<polygon points="323.63,613.19 318.78,615.99 318.78,621.59 323.63,624.39 328.48,621.59 328.48,615.99" fill="none" stroke="#ec8012" stroke-width="2.00"/>
<polygon points="346.18,608.55 341.33,611.36 341.33,616.95 346.18,619.75 351.03,616.95 351.03,611.36" fill="none" stroke="#ec8012" stroke-width="2.00"/>
<polygon points="368.72,612.64 363.87,615.44 363.87,621.04 368.72,623.84 373.57,621.04 373.57,615.44" fill="none" stroke="#ec8012" stroke-width="2.00"/>
<polygon points="391.27,613.73 386.42,616.53 386.42,622.13 391.27,624.93 396.12,622.13 396.12,616.53" fill="none" stroke="#ec8012" stroke-width="2.00"/>
<polygon points="413.82,612.64 408.97,615.44 408.97,621.04 413.82,623.84 418.67,621.04 418.67,615.44" fill="none" stroke="#ec8012" stroke-width="2.00"/>
<polygon points="436.37,613.73 431.52,616.53 431.52,622.13 436.37,624.93 441.22,622.13 441.22,616.53" fill="none" stroke="#ec8012" stroke-width="2.00"/>
<path d="M109.78 618.24H116.58M109.78 616.61H116.58M113.18 614.03V620.83M124.81 605.71H131.61M124.81 605.71H131.61M128.21 602.31V609.11M139.84 597.53H146.64M139.84 597.53H146.64M143.24 594.13V600.93M154.88 588.00H161.68M154.88 588.00H161.68M158.28 584.60V591.39M173.31 578.19V571.51M173.31 555.84V562.51M169.91 578.19H176.71M169.91 555.84H176.71M188.34 564.01V563.88M188.34 554.75V554.88M184.94 564.01H191.74M184.94 554.75H191.74M203.37 550.66V550.53M203.37 541.40V541.53M199.97 550.66H206.77M199.97 541.40H206.77M218.40 561.29V530.91M218.40 490.99V521.91M215.00 561.29H221.80M215.00 490.99H221.80M233.44 506.25V491.67M233.44 468.37V482.67M230.04 506.25H236.84M230.04 468.37H236.84M255.98 499.16V499.03M255.98 489.89V490.03M252.58 499.16H259.38M252.58 489.89H259.38M278.53 510.33V485.68M278.53 452.29V476.68M275.13 510.33H281.93M275.13 452.29H281.93M297.68 467.55H304.48M297.68 464.28H304.48M323.63 452.02V451.88M323.63 442.75V442.88M320.23 452.02H327.03M320.23 442.75H327.03M346.18 474.91V472.05M346.18 459.38V463.05M342.78 474.91H349.58M342.78 459.38H349.58M365.32 439.76H372.12M365.32 436.49H372.12M387.87 462.92H394.67M387.87 459.65H394.67M413.82 494.80V469.60M413.82 434.85V460.60M410.42 494.80H417.22M410.42 434.85H417.22M436.37 481.18V471.50M436.37 452.56V462.50M432.97 481.18H439.77M432.97 452.56H439.77" stroke="#4a148c" stroke-width="2.00" fill="none"/>
<rect x="108.63" y="612.88" width="9.10" height="9.10" fill="none" stroke="#4a148c" stroke-width="2.00"/>
<rect x="123.66" y="601.16" width="9.10" height="9.10" fill="none" stroke="#4a148c" stroke-width="2.00"/>
<rect x="138.69" y="592.98" width="9.10" height="9.10" fill="none" stroke="#4a148c" stroke-width="2.00"/>
<rect x="153.73" y="583.45" width="9.10" height="9.10" fill="none" stroke="#4a148c" stroke-width="2.00"/>
<rect x="168.76" y="562.46" width="9.10" height="9.10" fill="none" stroke="#4a148c" stroke-width="2.00"/>
<rect x="183.79" y="554.83" width="9.10" height="9.10" fill="none" stroke="#4a148c" stroke-width="2.00"/>
<rect x="198.82" y="541.48" width="9.10" height="9.10" fill="none" stroke="#4a148c" stroke-width="2.00"/>
<rect x="213.85" y="521.86" width="9.10" height="9.10" fill="none" stroke="#4a148c" stroke-width="2.00"/>
<rect x="228.89" y="482.62" width="9.10" height="9.10" fill="none" stroke="#4a148c" stroke-width="2.00"/>
<rect x="251.43" y="489.98" width="9.10" height="9.10" fill="none" stroke="#4a148c" stroke-width="2.00"/>
<rect x="273.98" y="476.62" width="9.10" height="9.10" fill="none" stroke="#4a148c" stroke-width="2.00"/>
<rect x="296.53" y="461.37" width="9.10" height="9.10" fill="none" stroke="#4a148c" stroke-width="2.00"/>
<rect x="319.08" y="442.83" width="9.10" height="9.10" fill="none" stroke="#4a148c" stroke-width="2.00"/>
<rect x="341.63" y="463.00" width="9.10" height="9.10" fill="none" stroke="#4a148c" stroke-width="2.00"/>
<rect x="364.17" y="433.57" width="9.10" height="9.10" fill="none" stroke="#4a148c" stroke-width="2.00"/>
<rect x="386.72" y="456.73" width="9.10" height="9.10" fill="none" stroke="#4a148c" stroke-width="2.00"/>
<rect x="409.27" y="460.55" width="9.10" height="9.10" fill="none" stroke="#4a148c" stroke-width="2.00"/>
<rect x="431.82" y="462.45" width="9.10" height="9.10" fill="none" stroke="#4a148c" stroke-width="2.00"/>
<path d="M75.60 625.60 L76.54 625.60 L77.48 625.60 L78.43 625.60 L79.37 625.60 L80.31 625.60 L81.25 625.60 L82.19 625.60 L83.13 625.59 L84.08 625.59 L85.02 625.59 L85.96 625.59 L86.90 625.59 L87.84 625.59 L88.79 625.58 L89.73 625.58 L90.67 625.58 L91.61 625.58 L92.55 625.57 L93.50 625.57 L94.44 625.57 L95.38 625.56 L96.32 625.56 L97.26 625.56 L98.20 625.55 L99.15 625.55 L100.09 625.54 L101.03 625.54 L101.97 625.53 L102.91 625.53 L103.86 625.53 L104.80 625.52 L105.74 625.51 L106.68 625.51 L107.62 625.50 L108.56 625.50 L109.51 625.49 L110.45 625.49 L111.39 625.48 L112.33 625.47 L113.27 625.47 L114.22 625.46 L115.16 625.45 L116.10 625.45 L117.04 625.44 L117.98 625.43 L118.93 625.42 L119.87 625.42 L120.81 625.41 L121.75 625.40 L122.69 625.39 L123.63 625.38 L124.58 625.38 L125.52 625.37 L126.46 625.36 L127.40 625.35 L128.34 625.34 L129.29 625.33 L130.23 625.32 L131.17 625.31 L132.11 625.30 L133.05 625.29 L133.99 625.28 L134.94 625.27 L135.88 625.26 L136.82 625.25 L137.76 625.24 L138.70 625.23 L139.65 625.22 L140.59 625.20 L141.53 625.19 L142.47 625.18 L143.41 625.17 L144.36 625.16 L145.30 625.14 L146.24 625.13 L147.18 625.12 L148.12 625.11 L149.06 625.09 L150.01 625.08 L150.95 625.07 L151.89 625.05 L152.83 625.04 L153.77 625.03 L154.72 625.01 L155.66 625.00 L156.60 624.99 L157.54 624.97 L158.48 624.96 L159.43 624.94 L160.37 624.93 L161.31 624.91 L162.25 624.90 L163.19 624.88 L164.13 624.87 L165.08 624.85 L166.02 624.83 L166.96 624.82 L167.90 624.80 L168.84 624.79 L169.79 624.77 L170.73 624.75 L171.67 624.74 L172.61 624.72 L173.55 624.70 L174.49 624.68 L175.44 624.67 L176.38 624.65 L177.32 624.63 L178.26 624.61 L179.20 624.59 L180.15 624.58 L181.09 624.56 L182.03 624.54 L182.97 624.52 L183.91 624.50 L184.86 624.48 L185.80 624.46 L186.74 624.44 L187.68 624.42 L188.62 624.40 L189.56 624.38 L190.51 624.36 L191.45 624.34 L192.39 624.32 L193.33 624.30 L194.27 624.28 L195.22 624.26 L196.16 624.24 L197.10 624.22 L198.04 624.20 L198.98 624.18 L199.92 624.15 L200.87 624.13 L201.81 624.11 L202.75 624.09 L203.69 624.06 L204.63 624.04 L205.58 624.02 L206.52 624.00 L207.46 623.97 L208.40 623.95 L209.34 623.93 L210.29 623.90 L211.23 623.88 L212.17 623.86 L213.11 623.83 L214.05 623.81 L214.99 623.78 L215.94 623.76 L216.88 623.73 L217.82 623.71 L218.76 623.68 L219.70 623.66 L220.65 623.63 L221.59 623.61 L222.53 623.58 L223.47 623.56 L224.41 623.53 L225.35 623.50 L226.30 623.48 L227.24 623.45 L228.18 623.42 L229.12 623.40 L230.06 623.37 L231.01 623.34 L231.95 623.32 L232.89 623.29 L233.83 623.26 L234.77 623.23 L235.72 623.20 L236.66 623.18 L237.60 623.15 L238.54 623.12 L239.48 623.09 L240.42 623.06 L241.37 623.03 L242.31 623.00 L243.25 622.97 L244.19 622.95 L245.13 622.92 L246.08 622.89 L247.02 622.86 L247.96 622.83 L248.90 622.80 L249.84 622.77 L250.78 622.73 L251.73 622.70 L252.67 622.67 L253.61 622.64 L254.55 622.61 L255.49 622.58 L256.44 622.55 L257.38 622.52 L258.32 622.48 L259.26 622.45 L260.20 622.42 L261.15 622.39 L262.09 622.35 L263.03 622.32 L263.97 622.29 L264.91 622.26 L265.85 622.22 L266.80 622.19 L267.74 622.16 L268.68 622.12 L269.62 622.09 L270.56 622.05 L271.51 622.02 L272.45 621.99 L273.39 621.95 L274.33 621.92 L275.27 621.88 L276.22 621.85 L277.16 621.81 L278.10 621.78 L279.04 621.74 L279.98 621.71 L280.92 621.67 L281.87 621.63 L282.81 621.60 L283.75 621.56 L284.69 621.53 L285.63 621.49 L286.58 621.45 L287.52 621.42 L288.46 621.38 L289.40 621.34 L290.34 621.30 L291.28 621.27 L292.23 621.23 L293.17 621.19 L294.11 621.15 L295.05 621.12 L295.99 621.08 L296.94 621.04 L297.88 621.00 L298.82 620.96 L299.76 620.92 L300.70 620.88 L301.65 620.84 L302.59 620.80 L303.53 620.77 L304.47 620.73 L305.41 620.69 L306.35 620.65 L307.30 620.61 L308.24 620.56 L309.18 620.52 L310.12 620.48 L311.06 620.44 L312.01 620.40 L312.95 620.36 L313.89 620.32 L314.83 620.28 L315.77 620.24 L316.71 620.19 L317.66 620.15 L318.60 620.11 L319.54 620.07 L320.48 620.03 L321.42 619.98 L322.37 619.94 L323.31 619.90 L324.25 619.85 L325.19 619.81 L326.13 619.77 L327.08 619.72 L328.02 619.68 L328.96 619.64 L329.90 619.59 L330.84 619.55 L331.78 619.51 L332.73 619.46 L333.67 619.42 L334.61 619.37 L335.55 619.33 L336.49 619.28 L337.44 619.24 L338.38 619.19 L339.32 619.15 L340.26 619.10 L341.20 619.05 L342.14 619.01 L343.09 618.96 L344.03 618.92 L344.97 618.87 L345.91 618.82 L346.85 618.78 L347.80 618.73 L348.74 618.68 L349.68 618.63 L350.62 618.59 L351.56 618.54 L352.51 618.49 L353.45 618.44 L354.39 618.40 L355.33 618.35 L356.27 618.30 L357.21 618.25 L358.16 618.20 L359.10 618.15 L360.04 618.10 L360.98 618.06 L361.92 618.01 L362.87 617.96 L363.81 617.91 L364.75 617.86 L365.69 617.81 L366.63 617.76 L367.57 617.71 L368.52 617.66 L369.46 617.61 L370.40 617.56 L371.34 617.51 L372.28 617.45 L373.23 617.40 L374.17 617.35 L375.11 617.30 L376.05 617.25 L376.99 617.20 L377.94 617.15 L378.88 617.09 L379.82 617.04 L380.76 616.99 L381.70 616.94 L382.64 616.88 L383.59 616.83 L384.53 616.78 L385.47 616.72 L386.41 616.67 L387.35 616.62 L388.30 616.56 L389.24 616.51 L390.18 616.46 L391.12 616.40 L392.06 616.35 L393.01 616.29 L393.95 616.24 L394.89 616.19 L395.83 616.13 L396.77 616.08 L397.71 616.02 L398.66 615.97 L399.60 615.91 L400.54 615.86 L401.48 615.80 L402.42 615.74 L403.37 615.69 L404.31 615.63 L405.25 615.58 L406.19 615.52 L407.13 615.46 L408.07 615.41 L409.02 615.35 L409.96 615.29 L410.90 615.24 L411.84 615.18 L412.78 615.12 L413.73 615.06 L414.67 615.00 L415.61 614.95 L416.55 614.89 L417.49 614.83 L418.44 614.77 L419.38 614.71 L420.32 614.66 L421.26 614.60 L422.20 614.54 L423.14 614.48 L424.09 614.42 L425.03 614.36 L425.97 614.30 L426.91 614.24 L427.85 614.18 L428.80 614.12 L429.74 614.06 L430.68 614.00 L431.62 613.94 L432.56 613.88 L433.50 613.82 L434.45 613.76 L435.39 613.70 L436.33 613.64 L437.27 613.57 L438.21 613.51 L439.16 613.45 L440.10 613.39 L441.04 613.33 L441.98 613.27 L442.92 613.20 L443.87 613.14 L444.81 613.08 L445.75 613.02 L446.69 612.95 L447.63 612.89 L448.57 612.83 L449.52 612.76 L450.46 612.70 L451.40 612.64" fill="none" stroke="#ec8012" stroke-width="2.00" stroke-linejoin="round"/>
<path d="M75.60 625.60 L76.54 625.59 L77.48 625.58 L78.43 625.55 L79.37 625.51 L80.31 625.47 L81.25 625.41 L82.19 625.34 L83.13 625.26 L84.08 625.16 L85.02 625.06 L85.96 624.95 L86.90 624.83 L87.84 624.69 L88.79 624.55 L89.73 624.39 L90.67 624.23 L91.61 624.05 L92.55 623.86 L93.50 623.66 L94.44 623.45 L95.38 623.24 L96.32 623.01 L97.26 622.77 L98.20 622.52 L99.15 622.25 L100.09 621.98 L101.03 621.70 L101.97 621.41 L102.91 621.11 L103.86 620.79 L104.80 620.47 L105.74 620.14 L106.68 619.80 L107.62 619.44 L108.56 619.08 L109.51 618.70 L110.45 618.32 L111.39 617.93 L112.33 617.52 L113.27 617.11 L114.22 616.69 L115.16 616.25 L116.10 615.81 L117.04 615.36 L117.98 614.90 L118.93 614.42 L119.87 613.94 L120.81 613.45 L121.75 612.95 L122.69 612.44 L123.63 611.92 L124.58 611.39 L125.52 610.85 L126.46 610.31 L127.40 609.75 L128.34 609.19 L129.29 608.61 L130.23 608.03 L131.17 607.44 L132.11 606.84 L133.05 606.23 L133.99 605.61 L134.94 604.98 L135.88 604.35 L136.82 603.70 L137.76 603.05 L138.70 602.39 L139.65 601.72 L140.59 601.04 L141.53 600.36 L142.47 599.66 L143.41 598.96 L144.36 598.25 L145.30 597.53 L146.24 596.81 L147.18 596.08 L148.12 595.34 L149.06 594.59 L150.01 593.83 L150.95 593.07 L151.89 592.30 L152.83 591.52 L153.77 590.74 L154.72 589.95 L155.66 589.15 L156.60 588.34 L157.54 587.53 L158.48 586.71 L159.43 585.89 L160.37 585.05 L161.31 584.22 L162.25 583.37 L163.19 582.52 L164.13 581.66 L165.08 580.80 L166.02 579.93 L166.96 579.06 L167.90 578.18 L168.84 577.29 L169.79 576.40 L170.73 575.50 L171.67 574.60 L172.61 573.69 L173.55 572.77 L174.49 571.86 L175.44 570.93 L176.38 570.00 L177.32 569.07 L178.26 568.13 L179.20 567.19 L180.15 566.24 L181.09 565.29 L182.03 564.33 L182.97 563.37 L183.91 562.41 L184.86 561.44 L185.80 560.47 L186.74 559.49 L187.68 558.51 L188.62 557.53 L189.56 556.54 L190.51 555.55 L191.45 554.56 L192.39 553.56 L193.33 552.56 L194.27 551.56 L195.22 550.55 L196.16 549.54 L197.10 548.53 L198.04 547.52 L198.98 546.50 L199.92 545.48 L200.87 544.46 L201.81 543.44 L202.75 542.41 L203.69 541.39 L204.63 540.36 L205.58 539.33 L206.52 538.30 L207.46 537.26 L208.40 536.23 L209.34 535.19 L210.29 534.16 L211.23 533.12 L212.17 532.08 L213.11 531.04 L214.05 530.00 L214.99 528.96 L215.94 527.92 L216.88 526.88 L217.82 525.84 L218.76 524.79 L219.70 523.75 L220.65 522.71 L221.59 521.67 L222.53 520.63 L223.47 519.59 L224.41 518.55 L225.35 517.51 L226.30 516.47 L227.24 515.43 L228.18 514.40 L229.12 513.36 L230.06 512.32 L231.01 511.29 L231.95 510.26 L232.89 509.23 L233.83 508.20 L234.77 507.17 L235.72 506.15 L236.66 505.13 L237.60 504.11 L238.54 503.09 L239.48 502.07 L240.42 501.06 L241.37 500.05 L242.31 499.04 L243.25 498.03 L244.19 497.03 L245.13 496.03 L246.08 495.03 L247.02 494.04 L247.96 493.05 L248.90 492.06 L249.84 491.08 L250.78 490.10 L251.73 489.12 L252.67 488.15 L253.61 487.18 L254.55 486.21 L255.49 485.25 L256.44 484.30 L257.38 483.34 L258.32 482.40 L259.26 481.45 L260.20 480.52 L261.15 479.58 L262.09 478.65 L263.03 477.73 L263.97 476.81 L264.91 475.90 L265.85 474.99 L266.80 474.08 L267.74 473.19 L268.68 472.29 L269.62 471.41 L270.56 470.53 L271.51 469.65 L272.45 468.78 L273.39 467.92 L274.33 467.06 L275.27 466.21 L276.22 465.37 L277.16 464.53 L278.10 463.69 L279.04 462.87 L279.98 462.05 L280.92 461.24 L281.87 460.43 L282.81 459.63 L283.75 458.84 L284.69 458.06 L285.63 457.28 L286.58 456.51 L287.52 455.75 L288.46 454.99 L289.40 454.24 L290.34 453.50 L291.28 452.77 L292.23 452.04 L293.17 451.33 L294.11 450.62 L295.05 449.91 L295.99 449.22 L296.94 448.53 L297.88 447.86 L298.82 447.19 L299.76 446.53 L300.70 445.87 L301.65 445.23 L302.59 444.59 L303.53 443.97 L304.47 443.35 L305.41 442.74 L306.35 442.14 L307.30 441.54 L308.24 440.96 L309.18 440.39 L310.12 439.82 L311.06 439.26 L312.01 438.72 L312.95 438.18 L313.89 437.65 L314.83 437.13 L315.77 436.62 L316.71 436.12 L317.66 435.63 L318.60 435.14 L319.54 434.67 L320.48 434.21 L321.42 433.76 L322.37 433.31 L323.31 432.88 L324.25 432.46 L325.19 432.04 L326.13 431.64 L327.08 431.24 L328.02 430.86 L328.96 430.49 L329.90 430.12 L330.84 429.77 L331.78 429.42 L332.73 429.09 L333.67 428.77 L334.61 428.45 L335.55 428.15 L336.49 427.86 L337.44 427.58 L338.38 427.31 L339.32 427.04 L340.26 426.79 L341.20 426.55 L342.14 426.32 L343.09 426.10 L344.03 425.89 L344.97 425.70 L345.91 425.51 L346.85 425.33 L347.80 425.16 L348.74 425.01 L349.68 424.86 L350.62 424.73 L351.56 424.60 L352.51 424.49 L353.45 424.39 L354.39 424.30 L355.33 424.22 L356.27 424.15 L357.21 424.09 L358.16 424.04 L359.10 424.00 L360.04 423.97 L360.98 423.96 L361.92 423.95 L362.87 423.95 L363.81 423.96 L364.75 423.99 L365.69 424.02 L366.63 424.07 L367.57 424.13 L368.52 424.21 L369.46 424.30 L370.40 424.40 L371.34 424.51 L372.28 424.63 L373.23 424.76 L374.17 424.89 L375.11 425.02 L376.05 425.16 L376.99 425.29 L377.94 425.43 L378.88 425.58 L379.82 425.74 L380.76 425.94 L381.70 426.17 L382.64 426.44 L383.59 426.76 L384.53 427.13 L385.47 427.56 L386.41 428.02 L387.35 428.52 L388.30 429.04 L389.24 429.57 L390.18 430.10 L391.12 430.62 L392.06 431.13 L393.01 431.60 L393.95 432.04 L394.89 432.44 L395.83 432.81 L396.77 433.15 L397.71 433.46 L398.66 433.76 L399.60 434.04 L400.54 434.32 L401.48 434.60 L402.42 434.88 L403.37 435.17 L404.31 435.48 L405.25 435.81 L406.19 436.16 L407.13 436.52 L408.07 436.90 L409.02 437.29 L409.96 437.68 L410.90 438.09 L411.84 438.50 L412.78 438.91 L413.73 439.33 L414.67 439.74 L415.61 440.15 L416.55 440.56 L417.49 440.96 L418.44 441.36 L419.38 441.77 L420.32 442.17 L421.26 442.58 L422.20 442.99 L423.14 443.41 L424.09 443.84 L425.03 444.27 L425.97 444.72 L426.91 445.18 L427.85 445.65 L428.80 446.13 L429.74 446.61 L430.68 447.11 L431.62 447.61 L432.56 448.11 L433.50 448.61 L434.45 449.11 L435.39 449.62 L436.33 450.12 L437.27 450.61 L438.21 451.11 L439.16 451.59 L440.10 452.07 L441.04 452.55 L441.98 453.02 L442.92 453.49 L443.87 453.96 L444.81 454.42 L445.75 454.89 L446.69 455.36 L447.63 455.83 L448.57 456.30 L449.52 456.78 L450.46 457.26 L451.40 457.74" fill="none" stroke="#4a148c" stroke-width="2.00" stroke-linejoin="round" stroke-dasharray="11.5 12.9"/>
<path d="M572.19 279.45H578.99M572.19 272.90H578.99M587.23 267.99H594.03M587.23 261.45H594.03M602.26 259.54H609.06M602.26 252.99H609.06M617.30 248.09H624.10M617.30 241.54H624.10M635.73 251.90V244.49M635.73 226.00V233.69M632.33 251.90H639.13M632.33 226.00H639.13M650.77 228.72V224.58M650.77 209.63V213.78M647.37 228.72H654.17M647.37 209.63H654.17M662.41 206.64H669.21M662.41 203.36H669.21M680.84 199.00V190.76M680.84 170.37V179.96M677.44 199.00H684.24M677.44 170.37H684.24M692.48 157.00H699.28M692.48 153.73H699.28M718.43 171.18V143.31M718.43 104.92V132.51M715.03 171.18H721.83M715.03 104.92H721.83M740.99 154.82V148.50M740.99 132.19V137.70M737.59 154.82H744.39M737.59 132.19H744.39M763.54 160.00V128.32M763.54 86.65V117.52M760.14 160.00H766.94M760.14 86.65H766.94M786.09 169.82V146.31M786.09 112.01V135.51M782.69 169.82H789.49M782.69 112.01H789.49M808.65 125.64V113.32M808.65 90.19V102.52M805.25 125.64H812.05M805.25 90.19H812.05M827.80 125.10H834.60M827.80 121.83H834.60M853.76 175.82V145.77M853.76 104.92V134.97M850.36 175.82H857.16M850.36 104.92H857.16M876.31 112.83V106.77M876.31 91.28V95.97M872.91 112.83H879.71M872.91 91.28H879.71M898.86 112.28V108.41M898.86 87.74V97.61M895.46 112.28H902.26M895.46 87.74H902.26" stroke="#ec8012" stroke-width="2.00" fill="none"/>
<polygon points="575.59,270.57 570.74,273.37 570.74,278.97 575.59,281.77 580.44,278.97 580.44,273.37" fill="none" stroke="#ec8012" stroke-width="2.00"/>
<polygon points="590.63,259.12 585.78,261.92 585.78,267.52 590.63,270.32 595.48,267.52 595.48,261.92" fill="none" stroke="#ec8012" stroke-width="2.00"/>
<polygon points="605.66,250.67 600.81,253.47 600.81,259.07 605.66,261.87 610.51,259.07 610.51,253.47" fill="none" stroke="#ec8012" stroke-width="2.00"/>
<polygon points="620.70,239.21 615.85,242.01 615.85,247.61 620.70,250.41 625.55,247.61 625.55,242.01" fill="none" stroke="#ec8012" stroke-width="2.00"/>
<polygon points="635.73,233.49 630.88,236.29 630.88,241.89 635.73,244.69 640.58,241.89 640.58,236.29" fill="none" stroke="#ec8012" stroke-width="2.00"/>
<polygon points="650.77,213.58 645.92,216.38 645.92,221.98 650.77,224.78 655.62,221.98 655.62,216.38" fill="none" stroke="#ec8012" stroke-width="2.00"/>
<polygon points="665.81,199.40 660.96,202.20 660.96,207.80 665.81,210.60 670.66,207.80 670.66,202.20" fill="none" stroke="#ec8012" stroke-width="2.00"/>
<polygon points="680.84,179.76 675.99,182.56 675.99,188.16 680.84,190.96 685.69,188.16 685.69,182.56" fill="none" stroke="#ec8012" stroke-width="2.00"/>
<polygon points="695.88,149.77 691.03,152.57 691.03,158.17 695.88,160.97 700.73,158.17 700.73,152.57" fill="none" stroke="#ec8012" stroke-width="2.00"/>
<polygon points="718.43,132.31 713.58,135.11 713.58,140.71 718.43,143.51 723.28,140.71 723.28,135.11" fill="none" stroke="#ec8012" stroke-width="2.00"/>
<polygon points="740.99,137.50 736.14,140.30 736.14,145.90 740.99,148.70 745.84,145.90 745.84,140.30" fill="none" stroke="#ec8012" stroke-width="2.00"/>
<polygon points="763.54,117.32 758.69,120.12 758.69,125.72 763.54,128.52 768.39,125.72 768.39,120.12" fill="none" stroke="#ec8012" stroke-width="2.00"/>
<polygon points="786.09,135.31 781.24,138.11 781.24,143.71 786.09,146.51 790.94,143.71 790.94,138.11" fill="none" stroke="#ec8012" stroke-width="2.00"/>
<polygon points="808.65,102.32 803.80,105.12 803.80,110.72 808.65,113.52 813.50,110.72 813.50,105.12" fill="none" stroke="#ec8012" stroke-width="2.00"/>
<polygon points="831.20,117.86 826.35,120.66 826.35,126.26 831.20,129.06 836.05,126.26 836.05,120.66" fill="none" stroke="#ec8012" stroke-width="2.00"/>
<polygon points="853.76,134.77 848.91,137.57 848.91,143.17 853.76,145.97 858.61,143.17 858.61,137.57" fill="none" stroke="#ec8012" stroke-width="2.00"/>
<polygon points="876.31,95.77 871.46,98.57 871.46,104.17 876.31,106.97 881.16,104.17 881.16,98.57" fill="none" stroke="#ec8012" stroke-width="2.00"/>
<polygon points="898.86,97.41 894.01,100.21 894.01,105.81 898.86,108.61 903.71,105.81 903.71,100.21" fill="none" stroke="#ec8012" stroke-width="2.00"/>
<path d="M572.19 276.45H578.99M572.19 276.45H578.99M575.59 273.05V279.85M587.23 264.45H594.03M587.23 264.45H594.03M590.63 261.05V267.85M602.26 251.90H609.06M602.26 251.90H609.06M605.66 248.50V255.30M620.70 247.81V242.50M620.70 227.63V233.50M617.30 247.81H624.10M617.30 227.63H624.10M635.73 235.27V235.13M635.73 226.00V226.13M632.33 235.27H639.13M632.33 226.00H639.13M650.77 208.54V208.41M650.77 199.27V199.41M647.37 208.54H654.17M647.37 199.27H654.17M665.81 199.00V178.14M665.81 148.82V169.14M662.41 199.00H669.21M662.41 148.82H669.21M680.84 193.55V193.41M680.84 184.27V184.41M677.44 193.55H684.24M677.44 184.27H684.24M695.88 170.37V160.41M695.88 142.01V151.41M692.48 170.37H699.28M692.48 142.01H699.28M718.43 162.46V162.32M718.43 153.19V153.32M715.03 162.46H721.83M715.03 153.19H721.83M740.99 170.37V149.50M740.99 119.37V140.50M737.59 170.37H744.39M737.59 119.37H744.39M763.54 141.46V139.41M763.54 129.73V130.41M760.14 141.46H766.94M760.14 129.73H766.94M786.09 124.83V110.51M786.09 86.92V101.51M782.69 124.83H789.49M782.69 86.92H789.49M808.65 145.55V132.60M808.65 110.92V123.60M805.25 145.55H812.05M805.25 110.92H812.05M831.20 147.46V131.23M831.20 107.10V122.23M827.80 147.46H834.60M827.80 107.10H834.60M853.76 123.19V112.42M853.76 92.10V103.42M850.36 123.19H857.16M850.36 92.10H857.16M876.31 155.64V128.51M876.31 91.56V119.51M872.91 155.64H879.71M872.91 91.56H879.71M898.86 130.55V126.87M898.86 113.92V117.87M895.46 130.55H902.26M895.46 113.92H902.26" stroke="#4a148c" stroke-width="2.00" fill="none"/>
<rect x="571.04" y="271.90" width="9.10" height="9.10" fill="none" stroke="#4a148c" stroke-width="2.00"/>
<rect x="586.08" y="259.90" width="9.10" height="9.10" fill="none" stroke="#4a148c" stroke-width="2.00"/>
<rect x="601.11" y="247.35" width="9.10" height="9.10" fill="none" stroke="#4a148c" stroke-width="2.00"/>
<rect x="616.15" y="233.45" width="9.10" height="9.10" fill="none" stroke="#4a148c" stroke-width="2.00"/>
<rect x="631.18" y="226.08" width="9.10" height="9.10" fill="none" stroke="#4a148c" stroke-width="2.00"/>
<rect x="646.22" y="199.36" width="9.10" height="9.10" fill="none" stroke="#4a148c" stroke-width="2.00"/>
<rect x="661.26" y="169.09" width="9.10" height="9.10" fill="none" stroke="#4a148c" stroke-width="2.00"/>
<rect x="676.29" y="184.36" width="9.10" height="9.10" fill="none" stroke="#4a148c" stroke-width="2.00"/>
<rect x="691.33" y="151.36" width="9.10" height="9.10" fill="none" stroke="#4a148c" stroke-width="2.00"/>
<rect x="713.88" y="153.27" width="9.10" height="9.10" fill="none" stroke="#4a148c" stroke-width="2.00"/>
<rect x="736.44" y="140.45" width="9.10" height="9.10" fill="none" stroke="#4a148c" stroke-width="2.00"/>
<rect x="758.99" y="130.36" width="9.10" height="9.10" fill="none" stroke="#4a148c" stroke-width="2.00"/>
<rect x="781.54" y="101.46" width="9.10" height="9.10" fill="none" stroke="#4a148c" stroke-width="2.00"/>
<rect x="804.10" y="123.55" width="9.10" height="9.10" fill="none" stroke="#4a148c" stroke-width="2.00"/>
<rect x="826.65" y="122.18" width="9.10" height="9.10" fill="none" stroke="#4a148c" stroke-width="2.00"/>
<rect x="849.21" y="103.37" width="9.10" height="9.10" fill="none" stroke="#4a148c" stroke-width="2.00"/>
<rect x="871.76" y="119.46" width="9.10" height="9.10" fill="none" stroke="#4a148c" stroke-width="2.00"/>
<rect x="894.31" y="117.82" width="9.10" height="9.10" fill="none" stroke="#4a148c" stroke-width="2.00"/>
<path d="M538.00 284.90 L538.94 284.78 L539.88 284.69 L540.83 284.62 L541.77 284.57 L542.71 284.53 L543.65 284.51 L544.59 284.50 L545.54 284.50 L546.48 284.50 L547.42 284.50 L548.36 284.50 L549.31 284.49 L550.25 284.48 L551.19 284.45 L552.13 284.41 L553.07 284.36 L554.02 284.28 L554.96 284.18 L555.90 284.05 L556.84 283.89 L557.78 283.70 L558.73 283.48 L559.67 283.21 L560.61 282.91 L561.55 282.56 L562.49 282.17 L563.44 281.75 L564.38 281.29 L565.32 280.80 L566.26 280.28 L567.21 279.74 L568.15 279.17 L569.09 278.59 L570.03 277.98 L570.97 277.36 L571.92 276.72 L572.86 276.07 L573.80 275.42 L574.74 274.76 L575.68 274.09 L576.63 273.42 L577.57 272.75 L578.51 272.07 L579.45 271.39 L580.39 270.72 L581.34 270.04 L582.28 269.37 L583.22 268.70 L584.16 268.04 L585.11 267.38 L586.05 266.73 L586.99 266.08 L587.93 265.45 L588.87 264.82 L589.82 264.20 L590.76 263.58 L591.70 262.97 L592.64 262.36 L593.58 261.76 L594.53 261.16 L595.47 260.56 L596.41 259.96 L597.35 259.35 L598.29 258.75 L599.24 258.15 L600.18 257.54 L601.12 256.93 L602.06 256.32 L603.01 255.70 L603.95 255.08 L604.89 254.44 L605.83 253.81 L606.77 253.16 L607.72 252.50 L608.66 251.84 L609.60 251.16 L610.54 250.47 L611.48 249.78 L612.43 249.06 L613.37 248.34 L614.31 247.60 L615.25 246.86 L616.19 246.11 L617.14 245.36 L618.08 244.61 L619.02 243.86 L619.96 243.11 L620.91 242.38 L621.85 241.65 L622.79 240.94 L623.73 240.24 L624.67 239.57 L625.62 238.91 L626.56 238.27 L627.50 237.66 L628.44 237.06 L629.38 236.47 L630.33 235.90 L631.27 235.33 L632.21 234.77 L633.15 234.20 L634.09 233.64 L635.04 233.08 L635.98 232.50 L636.92 231.92 L637.86 231.33 L638.81 230.72 L639.75 230.09 L640.69 229.44 L641.63 228.77 L642.57 228.08 L643.52 227.36 L644.46 226.62 L645.40 225.85 L646.34 225.05 L647.28 224.23 L648.23 223.37 L649.17 222.47 L650.11 221.54 L651.05 220.58 L651.99 219.58 L652.94 218.56 L653.88 217.51 L654.82 216.46 L655.76 215.39 L656.71 214.31 L657.65 213.24 L658.59 212.17 L659.53 211.11 L660.47 210.05 L661.42 209.00 L662.36 207.96 L663.30 206.93 L664.24 205.92 L665.18 204.91 L666.13 203.91 L667.07 202.93 L668.01 201.97 L668.95 201.02 L669.89 200.09 L670.84 199.17 L671.78 198.27 L672.72 197.40 L673.66 196.54 L674.61 195.71 L675.55 194.90 L676.49 194.11 L677.43 193.34 L678.37 192.59 L679.32 191.84 L680.26 191.11 L681.20 190.37 L682.14 189.64 L683.08 188.90 L684.03 188.16 L684.97 187.41 L685.91 186.65 L686.85 185.87 L687.79 185.08 L688.74 184.26 L689.68 183.44 L690.62 182.59 L691.56 181.73 L692.51 180.86 L693.45 179.97 L694.39 179.08 L695.33 178.17 L696.27 177.25 L697.22 176.32 L698.16 175.38 L699.10 174.43 L700.04 173.48 L700.98 172.52 L701.93 171.55 L702.87 170.58 L703.81 169.60 L704.75 168.62 L705.69 167.64 L706.64 166.66 L707.58 165.67 L708.52 164.69 L709.46 163.70 L710.41 162.72 L711.35 161.74 L712.29 160.76 L713.23 159.78 L714.17 158.81 L715.12 157.85 L716.06 156.89 L717.00 155.93 L717.94 154.98 L718.88 154.04 L719.83 153.11 L720.77 152.18 L721.71 151.26 L722.65 150.36 L723.59 149.46 L724.54 148.57 L725.48 147.69 L726.42 146.83 L727.36 145.97 L728.31 145.13 L729.25 144.30 L730.19 143.49 L731.13 142.69 L732.07 141.90 L733.02 141.12 L733.96 140.35 L734.90 139.58 L735.84 138.82 L736.78 138.06 L737.73 137.30 L738.67 136.54 L739.61 135.77 L740.55 135.00 L741.49 134.22 L742.44 133.43 L743.38 132.64 L744.32 131.84 L745.26 131.03 L746.21 130.22 L747.15 129.41 L748.09 128.59 L749.03 127.78 L749.97 126.96 L750.92 126.14 L751.86 125.33 L752.80 124.52 L753.74 123.72 L754.68 122.91 L755.63 122.12 L756.57 121.33 L757.51 120.55 L758.45 119.78 L759.39 119.02 L760.34 118.27 L761.28 117.54 L762.22 116.81 L763.16 116.11 L764.11 115.41 L765.05 114.73 L765.99 114.07 L766.93 113.42 L767.87 112.79 L768.82 112.16 L769.76 111.55 L770.70 110.96 L771.64 110.37 L772.58 109.79 L773.53 109.22 L774.47 108.67 L775.41 108.12 L776.35 107.58 L777.29 107.04 L778.24 106.51 L779.18 105.99 L780.12 105.47 L781.06 104.95 L782.01 104.44 L782.95 103.92 L783.89 103.41 L784.83 102.89 L785.77 102.37 L786.72 101.85 L787.66 101.32 L788.60 100.79 L789.54 100.26 L790.48 99.73 L791.43 99.21 L792.37 98.68 L793.31 98.16 L794.25 97.65 L795.19 97.14 L796.14 96.65 L797.08 96.16 L798.02 95.68 L798.96 95.22 L799.91 94.76 L800.85 94.33 L801.79 93.90 L802.73 93.50 L803.67 93.11 L804.62 92.75 L805.56 92.40 L806.50 92.08 L807.44 91.77 L808.38 91.48 L809.33 91.21 L810.27 90.94 L811.21 90.69 L812.15 90.45 L813.09 90.21 L814.04 89.98 L814.98 89.76 L815.92 89.53 L816.86 89.31 L817.81 89.08 L818.75 88.85 L819.69 88.62 L820.63 88.37 L821.57 88.13 L822.52 87.87 L823.46 87.62 L824.40 87.36 L825.34 87.11 L826.28 86.85 L827.23 86.61 L828.17 86.36 L829.11 86.13 L830.05 85.91 L830.99 85.70 L831.94 85.50 L832.88 85.31 L833.82 85.15 L834.76 84.99 L835.71 84.85 L836.65 84.71 L837.59 84.59 L838.53 84.49 L839.47 84.39 L840.42 84.30 L841.36 84.22 L842.30 84.15 L843.24 84.08 L844.18 84.02 L845.13 83.97 L846.07 83.93 L847.01 83.89 L847.95 83.85 L848.89 83.82 L849.84 83.80 L850.78 83.79 L851.72 83.78 L852.66 83.78 L853.61 83.79 L854.55 83.80 L855.49 83.83 L856.43 83.87 L857.37 83.91 L858.32 83.97 L859.26 84.04 L860.20 84.12 L861.14 84.21 L862.08 84.31 L863.03 84.42 L863.97 84.54 L864.91 84.67 L865.85 84.81 L866.79 84.96 L867.74 85.13 L868.68 85.30 L869.62 85.48 L870.56 85.67 L871.51 85.87 L872.45 86.08 L873.39 86.30 L874.33 86.53 L875.27 86.76 L876.22 87.00 L877.16 87.25 L878.10 87.50 L879.04 87.75 L879.98 88.01 L880.93 88.28 L881.87 88.54 L882.81 88.81 L883.75 89.08 L884.69 89.35 L885.64 89.62 L886.58 89.90 L887.52 90.17 L888.46 90.45 L889.41 90.73 L890.35 91.01 L891.29 91.30 L892.23 91.58 L893.17 91.88 L894.12 92.17 L895.06 92.47 L896.00 92.78 L896.94 93.08 L897.88 93.40 L898.83 93.72 L899.77 94.04 L900.71 94.37 L901.65 94.71 L902.59 95.05 L903.54 95.40 L904.48 95.75 L905.42 96.11 L906.36 96.48 L907.31 96.86 L908.25 97.24 L909.19 97.64 L910.13 98.04 L911.07 98.45 L912.02 98.87 L912.96 99.30 L913.90 99.74" fill="none" stroke="#ec8012" stroke-width="2.00" stroke-linejoin="round"/>
<path d="M538.00 284.90 L538.94 284.89 L539.88 284.88 L540.83 284.85 L541.77 284.81 L542.71 284.76 L543.65 284.69 L544.59 284.62 L545.54 284.53 L546.48 284.44 L547.42 284.33 L548.36 284.21 L549.31 284.08 L550.25 283.94 L551.19 283.78 L552.13 283.62 L553.07 283.44 L554.02 283.25 L554.96 283.06 L555.90 282.85 L556.84 282.62 L557.78 282.39 L558.73 282.15 L559.67 281.89 L560.61 281.63 L561.55 281.35 L562.49 281.06 L563.44 280.76 L564.38 280.46 L565.32 280.13 L566.26 279.80 L567.21 279.46 L568.15 279.11 L569.09 278.74 L570.03 278.37 L570.97 277.98 L571.92 277.59 L572.86 277.18 L573.80 276.76 L574.74 276.34 L575.68 275.90 L576.63 275.45 L577.57 274.99 L578.51 274.52 L579.45 274.04 L580.39 273.55 L581.34 273.05 L582.28 272.54 L583.22 272.02 L584.16 271.49 L585.11 270.95 L586.05 270.41 L586.99 269.85 L587.93 269.28 L588.87 268.70 L589.82 268.11 L590.76 267.51 L591.70 266.91 L592.64 266.29 L593.58 265.66 L594.53 265.03 L595.47 264.38 L596.41 263.73 L597.35 263.07 L598.29 262.40 L599.24 261.72 L600.18 261.03 L601.12 260.33 L602.06 259.62 L603.01 258.91 L603.95 258.18 L604.89 257.45 L605.83 256.71 L606.77 255.96 L607.72 255.21 L608.66 254.44 L609.60 253.67 L610.54 252.89 L611.48 252.10 L612.43 251.30 L613.37 250.50 L614.31 249.69 L615.25 248.87 L616.19 248.05 L617.14 247.21 L618.08 246.37 L619.02 245.52 L619.96 244.67 L620.91 243.81 L621.85 242.94 L622.79 242.07 L623.73 241.18 L624.67 240.30 L625.62 239.40 L626.56 238.50 L627.50 237.60 L628.44 236.68 L629.38 235.76 L630.33 234.84 L631.27 233.91 L632.21 232.97 L633.15 232.03 L634.09 231.09 L635.04 230.13 L635.98 229.18 L636.92 228.21 L637.86 227.25 L638.81 226.27 L639.75 225.30 L640.69 224.32 L641.63 223.33 L642.57 222.34 L643.52 221.34 L644.46 220.34 L645.40 219.34 L646.34 218.33 L647.28 217.32 L648.23 216.31 L649.17 215.29 L650.11 214.26 L651.05 213.24 L651.99 212.21 L652.94 211.18 L653.88 210.14 L654.82 209.10 L655.76 208.06 L656.71 207.02 L657.65 205.97 L658.59 204.92 L659.53 203.87 L660.47 202.82 L661.42 201.76 L662.36 200.70 L663.30 199.64 L664.24 198.58 L665.18 197.52 L666.13 196.45 L667.07 195.39 L668.01 194.32 L668.95 193.25 L669.89 192.18 L670.84 191.11 L671.78 190.04 L672.72 188.97 L673.66 187.90 L674.61 186.82 L675.55 185.75 L676.49 184.68 L677.43 183.60 L678.37 182.53 L679.32 181.46 L680.26 180.38 L681.20 179.31 L682.14 178.24 L683.08 177.17 L684.03 176.10 L684.97 175.03 L685.91 173.96 L686.85 172.89 L687.79 171.82 L688.74 170.76 L689.68 169.70 L690.62 168.63 L691.56 167.57 L692.51 166.52 L693.45 165.46 L694.39 164.40 L695.33 163.35 L696.27 162.30 L697.22 161.26 L698.16 160.21 L699.10 159.17 L700.04 158.13 L700.98 157.09 L701.93 156.06 L702.87 155.03 L703.81 154.00 L704.75 152.98 L705.69 151.96 L706.64 150.94 L707.58 149.93 L708.52 148.92 L709.46 147.92 L710.41 146.92 L711.35 145.92 L712.29 144.93 L713.23 143.94 L714.17 142.96 L715.12 141.98 L716.06 141.01 L717.00 140.04 L717.94 139.08 L718.88 138.12 L719.83 137.16 L720.77 136.21 L721.71 135.27 L722.65 134.33 L723.59 133.40 L724.54 132.48 L725.48 131.56 L726.42 130.64 L727.36 129.73 L728.31 128.83 L729.25 127.94 L730.19 127.05 L731.13 126.16 L732.07 125.29 L733.02 124.42 L733.96 123.56 L734.90 122.70 L735.84 121.85 L736.78 121.01 L737.73 120.17 L738.67 119.34 L739.61 118.52 L740.55 117.71 L741.49 116.91 L742.44 116.11 L743.38 115.32 L744.32 114.53 L745.26 113.76 L746.21 112.99 L747.15 112.23 L748.09 111.48 L749.03 110.74 L749.97 110.01 L750.92 109.28 L751.86 108.56 L752.80 107.86 L753.74 107.16 L754.68 106.46 L755.63 105.78 L756.57 105.11 L757.51 104.44 L758.45 103.79 L759.39 103.14 L760.34 102.50 L761.28 101.88 L762.22 101.26 L763.16 100.65 L764.11 100.05 L765.05 99.46 L765.99 98.87 L766.93 98.30 L767.87 97.74 L768.82 97.19 L769.76 96.65 L770.70 96.11 L771.64 95.59 L772.58 95.08 L773.53 94.58 L774.47 94.09 L775.41 93.60 L776.35 93.13 L777.29 92.67 L778.24 92.22 L779.18 91.78 L780.12 91.35 L781.06 90.93 L782.01 90.52 L782.95 90.12 L783.89 89.73 L784.83 89.35 L785.77 88.99 L786.72 88.63 L787.66 88.29 L788.60 87.95 L789.54 87.63 L790.48 87.32 L791.43 87.01 L792.37 86.72 L793.31 86.44 L794.25 86.18 L795.19 85.92 L796.14 85.67 L797.08 85.44 L798.02 85.21 L798.96 85.00 L799.91 84.80 L800.85 84.61 L801.79 84.43 L802.73 84.26 L803.67 84.10 L804.62 83.96 L805.56 83.83 L806.50 83.70 L807.44 83.59 L808.38 83.49 L809.33 83.40 L810.27 83.33 L811.21 83.26 L812.15 83.21 L813.09 83.16 L814.04 83.13 L814.98 83.11 L815.92 83.10 L816.86 83.10 L817.81 83.12 L818.75 83.14 L819.69 83.18 L820.63 83.23 L821.57 83.29 L822.52 83.36 L823.46 83.44 L824.40 83.54 L825.34 83.65 L826.28 83.76 L827.23 83.89 L828.17 84.03 L829.11 84.18 L830.05 84.34 L830.99 84.51 L831.94 84.70 L832.88 84.89 L833.82 85.09 L834.76 85.30 L835.71 85.53 L836.65 85.77 L837.59 86.03 L838.53 86.30 L839.47 86.59 L840.42 86.89 L841.36 87.21 L842.30 87.54 L843.24 87.88 L844.18 88.23 L845.13 88.58 L846.07 88.93 L847.01 89.29 L847.95 89.65 L848.89 90.00 L849.84 90.35 L850.78 90.69 L851.72 91.02 L852.66 91.34 L853.61 91.65 L854.55 91.95 L855.49 92.24 L856.43 92.52 L857.37 92.80 L858.32 93.09 L859.26 93.38 L860.20 93.68 L861.14 94.00 L862.08 94.33 L863.03 94.69 L863.97 95.07 L864.91 95.48 L865.85 95.91 L866.79 96.36 L867.74 96.83 L868.68 97.32 L869.62 97.81 L870.56 98.32 L871.51 98.83 L872.45 99.35 L873.39 99.86 L874.33 100.38 L875.27 100.89 L876.22 101.40 L877.16 101.89 L878.10 102.38 L879.04 102.86 L879.98 103.33 L880.93 103.80 L881.87 104.27 L882.81 104.75 L883.75 105.22 L884.69 105.71 L885.64 106.20 L886.58 106.71 L887.52 107.23 L888.46 107.76 L889.41 108.30 L890.35 108.84 L891.29 109.39 L892.23 109.95 L893.17 110.52 L894.12 111.08 L895.06 111.65 L896.00 112.23 L896.94 112.80 L897.88 113.37 L898.83 113.94 L899.77 114.50 L900.71 115.06 L901.65 115.62 L902.59 116.17 L903.54 116.71 L904.48 117.24 L905.42 117.76 L906.36 118.27 L907.31 118.77 L908.25 119.26 L909.19 119.73 L910.13 120.18 L911.07 120.62 L912.02 121.04 L912.96 121.44 L913.90 121.83" fill="none" stroke="#4a148c" stroke-width="2.00" stroke-linejoin="round" stroke-dasharray="11.5 12.9"/>
<polygon points="100.00,59.60 95.15,62.40 95.15,68.00 100.00,70.80 104.85,68.00 104.85,62.40" fill="none" stroke="#ec8012" stroke-width="2.00"/>
<rect x="95.65" y="88.55" width="9.10" height="9.10" fill="none" stroke="#4a148c" stroke-width="2.00"/>
<polygon points="562.20,59.40 557.35,62.20 557.35,67.80 562.20,70.60 567.05,67.80 567.05,62.20" fill="none" stroke="#ec8012" stroke-width="2.00"/>
<rect x="557.85" y="88.65" width="9.10" height="9.10" fill="none" stroke="#4a148c" stroke-width="2.00"/>
<polygon points="100.00,408.70 95.15,411.50 95.15,417.10 100.00,419.90 104.85,417.10 104.85,411.50" fill="none" stroke="#ec8012" stroke-width="2.00"/>
<rect x="95.45" y="437.45" width="9.10" height="9.10" fill="none" stroke="#4a148c" stroke-width="2.00"/>
<polygon points="807.20,368.20 802.35,371.00 802.35,376.60 807.20,379.40 812.05,376.60 812.05,371.00" fill="none" stroke="#ec8012" stroke-width="2.00"/>
<rect x="802.75" y="397.15" width="9.10" height="9.10" fill="none" stroke="#4a148c" stroke-width="2.00"/>
</svg>
</body></html>
